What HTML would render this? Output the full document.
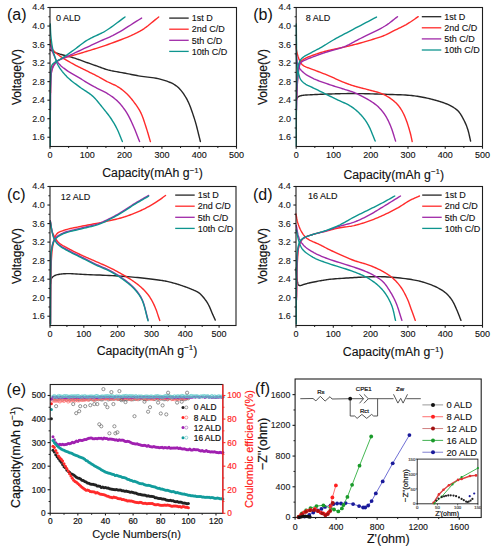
<!DOCTYPE html><html><head><meta charset="utf-8"><style>html,body{margin:0;padding:0;background:#fff;width:497px;height:550px;overflow:hidden}svg{display:block}</style></head><body><svg width="497" height="550" viewBox="0 0 497 550" font-family="'Liberation Sans', sans-serif">
<rect width="497" height="550" fill="#fff"/>
<path d="M50.00,49.80 L50.56,50.09 L51.10,50.39 L51.65,50.69 L52.19,51.00 L52.74,51.30 L53.29,51.60 L53.85,51.89 L54.41,52.17 L55.00,52.44 L55.60,52.70 L56.28,52.97 L56.98,53.22 L57.69,53.46 L58.41,53.69 L59.14,53.91 L59.88,54.12 L60.64,54.34 L61.41,54.55 L62.20,54.77 L63.00,55.00 L63.97,55.27 L64.97,55.54 L65.98,55.80 L67.02,56.06 L68.08,56.32 L69.15,56.59 L70.23,56.87 L71.32,57.16 L72.41,57.47 L73.50,57.80 L74.73,58.19 L75.97,58.61 L77.23,59.04 L78.50,59.50 L79.78,59.96 L81.07,60.43 L82.35,60.91 L83.64,61.38 L84.92,61.84 L86.20,62.30 L87.49,62.75 L88.79,63.21 L90.11,63.68 L91.42,64.14 L92.74,64.61 L94.04,65.06 L95.32,65.51 L96.58,65.96 L97.81,66.39 L99.00,66.80 L99.95,67.14 L100.85,67.47 L101.71,67.79 L102.56,68.11 L103.40,68.42 L104.25,68.73 L105.11,69.03 L106.02,69.32 L106.98,69.61 L108.00,69.90 L109.51,70.28 L111.14,70.65 L112.86,71.00 L114.65,71.35 L116.48,71.68 L118.33,72.01 L120.18,72.34 L122.01,72.66 L123.79,72.98 L125.50,73.30 L126.99,73.59 L128.45,73.88 L129.87,74.17 L131.28,74.45 L132.69,74.73 L134.09,75.01 L135.52,75.28 L136.97,75.56 L138.46,75.83 L140.00,76.10 L141.88,76.39 L143.83,76.65 L145.84,76.89 L147.89,77.11 L149.96,77.35 L152.04,77.60 L154.09,77.89 L156.12,78.23 L158.09,78.63 L160.00,79.10 L161.74,79.59 L163.48,80.10 L165.21,80.63 L166.92,81.20 L168.61,81.81 L170.25,82.48 L171.84,83.20 L173.37,83.99 L174.82,84.85 L176.20,85.80 L177.44,86.78 L178.60,87.83 L179.71,88.95 L180.76,90.12 L181.76,91.35 L182.73,92.63 L183.66,93.96 L184.56,95.33 L185.43,96.75 L186.30,98.20 L187.27,99.96 L188.19,101.82 L189.07,103.75 L189.89,105.75 L190.69,107.80 L191.45,109.89 L192.18,112.01 L192.90,114.15 L193.60,116.28 L194.30,118.40 L195.00,120.63 L195.67,122.89 L196.30,125.19 L196.91,127.50 L197.50,129.83 L198.07,132.17 L198.64,134.51 L199.22,136.85 L199.80,139.18 L200.40,141.50" fill="none" stroke="#262626" stroke-width="1.40" stroke-linejoin="round" stroke-linecap="round" />
<path d="M50.50,93.00 L50.54,91.28 L50.56,89.53 L50.58,87.75 L50.59,85.98 L50.60,84.21 L50.63,82.47 L50.68,80.76 L50.75,79.11 L50.85,77.51 L51.00,76.00 L51.13,74.87 L51.25,73.75 L51.38,72.65 L51.52,71.58 L51.69,70.53 L51.87,69.53 L52.09,68.57 L52.35,67.66 L52.65,66.80 L53.00,66.00 L53.31,65.43 L53.66,64.89 L54.03,64.39 L54.43,63.91 L54.84,63.46 L55.27,63.04 L55.71,62.63 L56.14,62.24 L56.58,61.86 L57.00,61.50 L57.35,61.21 L57.68,60.93 L58.01,60.68 L58.33,60.44 L58.67,60.21 L59.02,59.98 L59.39,59.77 L59.79,59.55 L60.22,59.33 L60.70,59.10 L61.65,58.70 L62.74,58.31 L63.95,57.93 L65.24,57.55 L66.60,57.17 L68.00,56.80 L69.41,56.43 L70.81,56.05 L72.19,55.68 L73.50,55.30 L74.76,54.93 L75.99,54.56 L77.21,54.20 L78.42,53.84 L79.64,53.48 L80.88,53.12 L82.14,52.74 L83.45,52.34 L84.79,51.93 L86.20,51.50 L88.13,50.91 L90.13,50.30 L92.19,49.68 L94.32,49.03 L96.50,48.36 L98.73,47.66 L101.00,46.92 L103.31,46.16 L105.64,45.35 L108.00,44.50 L111.01,43.40 L114.20,42.24 L117.50,41.03 L120.88,39.76 L124.28,38.44 L127.66,37.08 L130.97,35.67 L134.16,34.22 L137.19,32.73 L140.00,31.20 L142.15,29.90 L144.18,28.55 L146.12,27.16 L147.98,25.73 L149.78,24.28 L151.55,22.82 L153.31,21.35 L155.07,19.89 L156.86,18.43 L158.70,17.00" fill="none" stroke="#ff2b2b" stroke-width="1.40" stroke-linejoin="round" stroke-linecap="round" />
<path d="M50.50,40.00 L50.62,40.77 L50.72,41.57 L50.82,42.37 L50.91,43.18 L51.01,43.98 L51.12,44.77 L51.24,45.53 L51.39,46.27 L51.58,46.96 L51.80,47.60 L52.00,48.06 L52.20,48.49 L52.42,48.90 L52.65,49.29 L52.89,49.66 L53.16,50.03 L53.44,50.39 L53.74,50.75 L54.06,51.12 L54.40,51.50 L54.89,52.01 L55.41,52.52 L55.97,53.02 L56.56,53.52 L57.18,54.03 L57.83,54.53 L58.51,55.04 L59.22,55.55 L59.95,56.07 L60.70,56.60 L61.78,57.33 L62.94,58.09 L64.17,58.86 L65.46,59.63 L66.78,60.42 L68.13,61.20 L69.49,61.97 L70.85,62.74 L72.19,63.48 L73.50,64.20 L74.76,64.88 L76.03,65.55 L77.29,66.20 L78.56,66.83 L79.83,67.46 L81.11,68.09 L82.38,68.71 L83.65,69.34 L84.93,69.97 L86.20,70.60 L87.49,71.24 L88.79,71.89 L90.11,72.54 L91.43,73.19 L92.74,73.84 L94.05,74.48 L95.33,75.12 L96.59,75.76 L97.82,76.38 L99.00,77.00 L99.97,77.52 L100.90,78.03 L101.81,78.54 L102.70,79.05 L103.57,79.55 L104.44,80.04 L105.31,80.54 L106.19,81.03 L107.08,81.52 L108.00,82.00 L108.97,82.49 L109.96,82.95 L110.96,83.40 L111.97,83.85 L112.98,84.29 L113.99,84.75 L114.99,85.22 L115.98,85.71 L116.95,86.24 L117.90,86.80 L118.84,87.41 L119.78,88.03 L120.70,88.69 L121.61,89.36 L122.51,90.05 L123.39,90.77 L124.27,91.50 L125.13,92.25 L125.97,93.02 L126.80,93.80 L127.63,94.62 L128.45,95.46 L129.26,96.33 L130.05,97.22 L130.82,98.12 L131.58,99.04 L132.33,99.96 L133.07,100.90 L133.79,101.85 L134.50,102.80 L135.20,103.76 L135.89,104.71 L136.57,105.68 L137.24,106.65 L137.89,107.64 L138.53,108.64 L139.15,109.66 L139.75,110.71 L140.34,111.79 L140.90,112.90 L141.50,114.19 L142.07,115.53 L142.61,116.90 L143.13,118.31 L143.63,119.74 L144.12,121.19 L144.59,122.65 L145.06,124.11 L145.53,125.56 L146.00,127.00 L146.47,128.44 L146.93,129.90 L147.37,131.35 L147.81,132.81 L148.25,134.28 L148.68,135.74 L149.10,137.21 L149.53,138.67 L149.96,140.14 L150.40,141.60" fill="none" stroke="#ff2b2b" stroke-width="1.40" stroke-linejoin="round" stroke-linecap="round" />
<path d="M50.50,110.00 L50.52,107.47 L50.54,104.90 L50.55,102.30 L50.55,99.69 L50.56,97.10 L50.58,94.54 L50.61,92.03 L50.65,89.59 L50.71,87.24 L50.80,85.00 L50.86,83.32 L50.90,81.67 L50.93,80.06 L50.96,78.48 L51.01,76.94 L51.09,75.45 L51.21,74.00 L51.40,72.61 L51.65,71.27 L52.00,70.00 L52.33,69.02 L52.69,68.07 L53.08,67.16 L53.50,66.28 L53.96,65.43 L54.46,64.61 L55.00,63.83 L55.59,63.09 L56.22,62.38 L56.90,61.70 L57.70,61.03 L58.56,60.44 L59.48,59.91 L60.46,59.43 L61.48,58.97 L62.54,58.54 L63.64,58.10 L64.77,57.64 L65.93,57.14 L67.10,56.60 L68.77,55.79 L70.56,54.94 L72.43,54.05 L74.37,53.13 L76.35,52.19 L78.36,51.25 L80.38,50.31 L82.37,49.38 L84.32,48.48 L86.20,47.60 L87.92,46.81 L89.63,46.02 L91.33,45.23 L93.03,44.46 L94.71,43.69 L96.38,42.93 L98.02,42.18 L99.64,41.44 L101.24,40.72 L102.80,40.00 L104.11,39.41 L105.37,38.86 L106.58,38.33 L107.77,37.82 L108.96,37.30 L110.15,36.77 L111.38,36.21 L112.65,35.61 L113.99,34.94 L115.40,34.20 L117.66,32.95 L120.07,31.55 L122.61,30.03 L125.24,28.40 L127.94,26.71 L130.69,24.97 L133.46,23.21 L136.22,21.46 L138.94,19.75 L141.60,18.10" fill="none" stroke="#a02aa8" stroke-width="1.40" stroke-linejoin="round" stroke-linecap="round" />
<path d="M50.50,45.00 L50.74,45.80 L50.97,46.59 L51.19,47.38 L51.41,48.17 L51.63,48.97 L51.87,49.76 L52.11,50.56 L52.38,51.37 L52.67,52.18 L53.00,53.00 L53.40,53.97 L53.83,54.97 L54.27,55.99 L54.74,57.02 L55.23,58.05 L55.75,59.08 L56.31,60.08 L56.90,61.06 L57.53,62.00 L58.20,62.90 L58.93,63.77 L59.71,64.61 L60.53,65.42 L61.39,66.20 L62.28,66.96 L63.20,67.70 L64.15,68.43 L65.12,69.16 L66.10,69.88 L67.10,70.60 L68.25,71.40 L69.46,72.19 L70.70,72.96 L71.97,73.72 L73.27,74.46 L74.58,75.21 L75.90,75.95 L77.21,76.69 L78.52,77.44 L79.80,78.20 L81.07,78.97 L82.34,79.74 L83.59,80.52 L84.85,81.29 L86.11,82.07 L87.38,82.84 L88.66,83.61 L89.95,84.38 L91.27,85.14 L92.60,85.90 L94.07,86.70 L95.60,87.48 L97.16,88.26 L98.75,89.03 L100.34,89.80 L101.91,90.58 L103.47,91.36 L104.97,92.15 L106.42,92.97 L107.80,93.80 L108.93,94.52 L110.02,95.24 L111.09,95.96 L112.12,96.68 L113.13,97.42 L114.12,98.17 L115.08,98.95 L116.03,99.76 L116.97,100.61 L117.90,101.50 L118.88,102.50 L119.84,103.55 L120.79,104.63 L121.72,105.75 L122.63,106.90 L123.51,108.08 L124.37,109.27 L125.21,110.47 L126.02,111.69 L126.80,112.90 L127.54,114.11 L128.25,115.34 L128.92,116.58 L129.56,117.84 L130.19,119.11 L130.80,120.39 L131.40,121.69 L131.99,123.01 L132.59,124.35 L133.20,125.70 L133.87,127.21 L134.52,128.75 L135.17,130.32 L135.81,131.92 L136.44,133.53 L137.07,135.15 L137.70,136.77 L138.33,138.39 L138.96,140.00 L139.60,141.60" fill="none" stroke="#a02aa8" stroke-width="1.40" stroke-linejoin="round" stroke-linecap="round" />
<path d="M50.30,146.00 L50.30,141.32 L50.29,136.50 L50.28,131.61 L50.27,126.69 L50.27,121.82 L50.26,117.04 L50.26,112.41 L50.26,107.99 L50.28,103.84 L50.30,100.00 L50.31,97.65 L50.33,95.42 L50.33,93.29 L50.35,91.25 L50.36,89.28 L50.38,87.37 L50.41,85.50 L50.46,83.66 L50.52,81.83 L50.60,80.00 L50.66,78.41 L50.68,76.79 L50.70,75.15 L50.72,73.54 L50.75,71.96 L50.83,70.45 L50.95,69.02 L51.14,67.71 L51.42,66.52 L51.80,65.50 L52.08,64.96 L52.39,64.48 L52.73,64.04 L53.10,63.65 L53.48,63.28 L53.89,62.95 L54.30,62.63 L54.73,62.32 L55.16,62.01 L55.60,61.70 L56.05,61.40 L56.51,61.13 L56.98,60.89 L57.46,60.66 L57.95,60.45 L58.46,60.23 L58.98,59.99 L59.53,59.73 L60.10,59.44 L60.70,59.10 L61.76,58.45 L62.90,57.70 L64.12,56.88 L65.40,55.99 L66.73,55.06 L68.08,54.09 L69.45,53.11 L70.82,52.12 L72.18,51.15 L73.50,50.20 L74.87,49.21 L76.23,48.19 L77.58,47.15 L78.94,46.10 L80.31,45.04 L81.69,43.99 L83.10,42.96 L84.53,41.94 L85.99,40.95 L87.50,40.00 L89.17,39.03 L90.89,38.13 L92.65,37.26 L94.45,36.43 L96.27,35.60 L98.10,34.76 L99.94,33.90 L101.77,33.00 L103.60,32.04 L105.40,31.00 L107.36,29.78 L109.32,28.48 L111.28,27.12 L113.24,25.71 L115.20,24.27 L117.16,22.81 L119.12,21.34 L121.08,19.87 L123.04,18.42 L125.00,17.00" fill="none" stroke="#0e958f" stroke-width="1.40" stroke-linejoin="round" stroke-linecap="round" />
<path d="M50.30,24.00 L50.35,25.10 L50.38,26.19 L50.42,27.27 L50.45,28.36 L50.49,29.45 L50.53,30.54 L50.58,31.64 L50.64,32.74 L50.71,33.86 L50.80,35.00 L50.92,36.28 L51.05,37.59 L51.19,38.94 L51.35,40.31 L51.52,41.67 L51.70,43.03 L51.88,44.35 L52.08,45.63 L52.29,46.85 L52.50,48.00 L52.66,48.81 L52.83,49.58 L53.00,50.32 L53.17,51.03 L53.35,51.72 L53.53,52.41 L53.73,53.10 L53.94,53.81 L54.16,54.54 L54.40,55.30 L54.70,56.26 L55.00,57.24 L55.30,58.25 L55.63,59.28 L55.97,60.32 L56.34,61.37 L56.74,62.41 L57.18,63.45 L57.67,64.48 L58.20,65.50 L58.88,66.66 L59.62,67.83 L60.42,69.00 L61.27,70.17 L62.16,71.33 L63.09,72.48 L64.06,73.62 L65.05,74.74 L66.07,75.83 L67.10,76.90 L68.23,78.00 L69.42,79.08 L70.65,80.14 L71.92,81.17 L73.22,82.19 L74.53,83.19 L75.86,84.18 L77.18,85.16 L78.50,86.13 L79.80,87.10 L81.07,88.02 L82.37,88.91 L83.68,89.76 L84.99,90.60 L86.30,91.44 L87.60,92.30 L88.89,93.18 L90.16,94.09 L91.40,95.06 L92.60,96.10 L93.85,97.29 L95.08,98.56 L96.30,99.90 L97.49,101.29 L98.66,102.70 L99.80,104.12 L100.91,105.51 L101.99,106.87 L103.02,108.18 L104.00,109.40 L104.72,110.28 L105.40,111.11 L106.06,111.91 L106.69,112.70 L107.31,113.47 L107.91,114.24 L108.51,115.01 L109.10,115.81 L109.70,116.64 L110.30,117.50 L110.97,118.49 L111.63,119.49 L112.30,120.52 L112.95,121.57 L113.60,122.63 L114.25,123.71 L114.88,124.81 L115.50,125.93 L116.11,127.06 L116.70,128.20 L117.32,129.46 L117.92,130.76 L118.50,132.08 L119.07,133.42 L119.63,134.78 L120.18,136.15 L120.73,137.52 L121.28,138.89 L121.84,140.25 L122.40,141.60" fill="none" stroke="#0e958f" stroke-width="1.40" stroke-linejoin="round" stroke-linecap="round" />
<rect x="50.00" y="7.50" width="186.50" height="139.00" fill="none" stroke="#1e1e1e" stroke-width="1.10"/>
<line x1="50.00" y1="137.23" x2="47.40" y2="137.23" stroke="#1e1e1e" stroke-width="1.1"/>
<text x="44.70" y="140.18" font-size="9.00" text-anchor="end" fill="#222" stroke="#222" stroke-width="0.12" >1.6</text>
<line x1="50.00" y1="118.70" x2="47.40" y2="118.70" stroke="#1e1e1e" stroke-width="1.1"/>
<text x="44.70" y="121.65" font-size="9.00" text-anchor="end" fill="#222" stroke="#222" stroke-width="0.12" >2.0</text>
<line x1="50.00" y1="100.17" x2="47.40" y2="100.17" stroke="#1e1e1e" stroke-width="1.1"/>
<text x="44.70" y="103.12" font-size="9.00" text-anchor="end" fill="#222" stroke="#222" stroke-width="0.12" >2.4</text>
<line x1="50.00" y1="81.63" x2="47.40" y2="81.63" stroke="#1e1e1e" stroke-width="1.1"/>
<text x="44.70" y="84.58" font-size="9.00" text-anchor="end" fill="#222" stroke="#222" stroke-width="0.12" >2.8</text>
<line x1="50.00" y1="63.10" x2="47.40" y2="63.10" stroke="#1e1e1e" stroke-width="1.1"/>
<text x="44.70" y="66.05" font-size="9.00" text-anchor="end" fill="#222" stroke="#222" stroke-width="0.12" >3.2</text>
<line x1="50.00" y1="44.57" x2="47.40" y2="44.57" stroke="#1e1e1e" stroke-width="1.1"/>
<text x="44.70" y="47.52" font-size="9.00" text-anchor="end" fill="#222" stroke="#222" stroke-width="0.12" >3.6</text>
<line x1="50.00" y1="26.03" x2="47.40" y2="26.03" stroke="#1e1e1e" stroke-width="1.1"/>
<text x="44.70" y="28.98" font-size="9.00" text-anchor="end" fill="#222" stroke="#222" stroke-width="0.12" >4.0</text>
<line x1="50.00" y1="7.50" x2="47.40" y2="7.50" stroke="#1e1e1e" stroke-width="1.1"/>
<text x="44.70" y="10.45" font-size="9.00" text-anchor="end" fill="#222" stroke="#222" stroke-width="0.12" >4.4</text>
<line x1="50.00" y1="127.97" x2="48.40" y2="127.97" stroke="#1e1e1e" stroke-width="1"/>
<line x1="50.00" y1="109.43" x2="48.40" y2="109.43" stroke="#1e1e1e" stroke-width="1"/>
<line x1="50.00" y1="90.90" x2="48.40" y2="90.90" stroke="#1e1e1e" stroke-width="1"/>
<line x1="50.00" y1="72.37" x2="48.40" y2="72.37" stroke="#1e1e1e" stroke-width="1"/>
<line x1="50.00" y1="53.83" x2="48.40" y2="53.83" stroke="#1e1e1e" stroke-width="1"/>
<line x1="50.00" y1="35.30" x2="48.40" y2="35.30" stroke="#1e1e1e" stroke-width="1"/>
<line x1="50.00" y1="16.77" x2="48.40" y2="16.77" stroke="#1e1e1e" stroke-width="1"/>
<line x1="50.00" y1="146.50" x2="50.00" y2="148.70" stroke="#1e1e1e" stroke-width="1.1"/>
<text x="50.00" y="157.50" font-size="9.00" text-anchor="middle" fill="#111" stroke="#111" stroke-width="0.12" >0</text>
<line x1="87.30" y1="146.50" x2="87.30" y2="148.70" stroke="#1e1e1e" stroke-width="1.1"/>
<text x="87.30" y="157.50" font-size="9.00" text-anchor="middle" fill="#111" stroke="#111" stroke-width="0.12" >100</text>
<line x1="124.60" y1="146.50" x2="124.60" y2="148.70" stroke="#1e1e1e" stroke-width="1.1"/>
<text x="124.60" y="157.50" font-size="9.00" text-anchor="middle" fill="#111" stroke="#111" stroke-width="0.12" >200</text>
<line x1="161.90" y1="146.50" x2="161.90" y2="148.70" stroke="#1e1e1e" stroke-width="1.1"/>
<text x="161.90" y="157.50" font-size="9.00" text-anchor="middle" fill="#111" stroke="#111" stroke-width="0.12" >300</text>
<line x1="199.20" y1="146.50" x2="199.20" y2="148.70" stroke="#1e1e1e" stroke-width="1.1"/>
<text x="199.20" y="157.50" font-size="9.00" text-anchor="middle" fill="#111" stroke="#111" stroke-width="0.12" >400</text>
<line x1="236.50" y1="146.50" x2="236.50" y2="148.70" stroke="#1e1e1e" stroke-width="1.1"/>
<text x="236.50" y="157.50" font-size="9.00" text-anchor="middle" fill="#111" stroke="#111" stroke-width="0.12" >500</text>
<line x1="68.65" y1="146.50" x2="68.65" y2="148.00" stroke="#1e1e1e" stroke-width="1"/>
<line x1="105.95" y1="146.50" x2="105.95" y2="148.00" stroke="#1e1e1e" stroke-width="1"/>
<line x1="143.25" y1="146.50" x2="143.25" y2="148.00" stroke="#1e1e1e" stroke-width="1"/>
<line x1="180.55" y1="146.50" x2="180.55" y2="148.00" stroke="#1e1e1e" stroke-width="1"/>
<line x1="217.85" y1="146.50" x2="217.85" y2="148.00" stroke="#1e1e1e" stroke-width="1"/>
<text x="56.00" y="21.00" font-size="9.00" text-anchor="start" fill="#111" stroke="#111" stroke-width="0.12" >0 ALD</text>
<line x1="169.20" y1="18.10" x2="188.70" y2="18.10" stroke="#262626" stroke-width="1.3"/>
<text x="191.70" y="21.30" font-size="9.00" text-anchor="start" fill="#111" stroke="#111" stroke-width="0.12" >1st D</text>
<line x1="169.20" y1="29.20" x2="188.70" y2="29.20" stroke="#ff2b2b" stroke-width="1.3"/>
<text x="191.70" y="32.40" font-size="9.00" text-anchor="start" fill="#111" stroke="#111" stroke-width="0.12" >2nd C/D</text>
<line x1="169.20" y1="40.30" x2="188.70" y2="40.30" stroke="#a02aa8" stroke-width="1.3"/>
<text x="191.70" y="43.50" font-size="9.00" text-anchor="start" fill="#111" stroke="#111" stroke-width="0.12" >5th C/D</text>
<line x1="169.20" y1="51.40" x2="188.70" y2="51.40" stroke="#0e958f" stroke-width="1.3"/>
<text x="191.70" y="54.60" font-size="9.00" text-anchor="start" fill="#111" stroke="#111" stroke-width="0.12" >10th C/D</text>
<text x="152.55" y="177.20" font-size="12.30" text-anchor="middle" fill="#111" stroke="#111" stroke-width="0.12" >Capacity(mAh g<tspan font-size="8" dy="-4.5">&#8722;1</tspan><tspan dy="4.5">)</tspan></text>
<text transform="translate(21.00,77.00) rotate(-90)" font-size="12" text-anchor="middle" fill="#111" stroke="#111" stroke-width="0.2">Voltage(V)</text>
<text x="7.00" y="19.50" font-size="16.00" text-anchor="start" fill="#111" stroke="#111" stroke-width="0.00" >(a)</text>
<path d="M296.50,99.00 L296.65,98.80 L296.78,98.59 L296.92,98.37 L297.05,98.16 L297.19,97.95 L297.33,97.74 L297.48,97.54 L297.64,97.35 L297.81,97.17 L298.00,97.00 L298.23,96.83 L298.46,96.67 L298.71,96.52 L298.97,96.38 L299.24,96.25 L299.53,96.13 L299.84,96.02 L300.17,95.91 L300.52,95.80 L300.90,95.70 L301.69,95.52 L302.58,95.38 L303.55,95.25 L304.61,95.15 L305.73,95.06 L306.89,94.98 L308.10,94.91 L309.33,94.85 L310.56,94.78 L311.80,94.70 L313.44,94.60 L315.18,94.51 L316.99,94.43 L318.86,94.36 L320.76,94.29 L322.67,94.23 L324.57,94.17 L326.44,94.11 L328.26,94.06 L330.00,94.00 L331.46,93.95 L332.87,93.90 L334.25,93.85 L335.60,93.80 L336.94,93.76 L338.28,93.72 L339.65,93.68 L341.05,93.65 L342.49,93.62 L344.00,93.60 L345.93,93.58 L347.94,93.57 L350.00,93.57 L352.12,93.57 L354.27,93.58 L356.43,93.59 L358.60,93.61 L360.77,93.64 L362.90,93.67 L365.00,93.70 L367.01,93.74 L369.00,93.78 L370.97,93.83 L372.93,93.89 L374.89,93.95 L376.86,94.01 L378.85,94.08 L380.87,94.15 L382.91,94.22 L385.00,94.30 L387.42,94.38 L389.94,94.46 L392.52,94.54 L395.15,94.62 L397.78,94.70 L400.39,94.80 L402.94,94.91 L405.42,95.05 L407.78,95.21 L410.00,95.40 L411.58,95.56 L413.08,95.73 L414.54,95.91 L415.94,96.10 L417.31,96.30 L418.67,96.51 L420.01,96.74 L421.35,96.98 L422.71,97.23 L424.10,97.50 L425.52,97.79 L426.96,98.09 L428.40,98.41 L429.84,98.74 L431.27,99.09 L432.70,99.45 L434.11,99.82 L435.50,100.20 L436.87,100.60 L438.20,101.00 L439.39,101.37 L440.57,101.75 L441.74,102.13 L442.89,102.52 L444.02,102.92 L445.14,103.33 L446.24,103.77 L447.32,104.22 L448.37,104.70 L449.40,105.20 L450.33,105.68 L451.26,106.17 L452.17,106.67 L453.07,107.18 L453.94,107.72 L454.79,108.27 L455.62,108.85 L456.41,109.47 L457.18,110.12 L457.90,110.80 L458.58,111.53 L459.23,112.30 L459.84,113.10 L460.42,113.94 L460.97,114.80 L461.51,115.68 L462.02,116.58 L462.52,117.48 L463.01,118.39 L463.50,119.30 L463.99,120.24 L464.46,121.19 L464.92,122.15 L465.36,123.12 L465.79,124.10 L466.20,125.10 L466.60,126.10 L466.98,127.12 L467.35,128.16 L467.70,129.20 L468.06,130.33 L468.38,131.49 L468.69,132.67 L468.98,133.86 L469.25,135.06 L469.52,136.27 L469.78,137.49 L470.05,138.70 L470.32,139.90 L470.60,141.10" fill="none" stroke="#262626" stroke-width="1.40" stroke-linejoin="round" stroke-linecap="round" />
<path d="M296.50,100.00 L296.60,97.98 L296.69,95.92 L296.79,93.84 L296.88,91.76 L296.97,89.68 L297.07,87.63 L297.17,85.62 L297.27,83.67 L297.38,81.79 L297.50,80.00 L297.59,78.66 L297.67,77.34 L297.75,76.04 L297.83,74.78 L297.92,73.55 L298.01,72.36 L298.12,71.20 L298.26,70.09 L298.41,69.02 L298.60,68.00 L298.75,67.28 L298.89,66.57 L299.04,65.89 L299.19,65.23 L299.36,64.59 L299.54,63.97 L299.76,63.38 L300.00,62.83 L300.28,62.30 L300.60,61.80 L300.92,61.39 L301.27,61.01 L301.64,60.66 L302.03,60.35 L302.45,60.04 L302.89,59.76 L303.35,59.47 L303.84,59.19 L304.36,58.90 L304.90,58.60 L305.77,58.14 L306.73,57.68 L307.77,57.22 L308.86,56.76 L310.00,56.31 L311.16,55.86 L312.34,55.43 L313.52,55.01 L314.68,54.59 L315.80,54.20 L316.88,53.83 L317.94,53.47 L319.00,53.13 L320.06,52.79 L321.12,52.47 L322.20,52.16 L323.30,51.84 L324.43,51.53 L325.59,51.22 L326.80,50.90 L328.36,50.51 L329.99,50.13 L331.68,49.75 L333.42,49.38 L335.18,49.00 L336.96,48.63 L338.75,48.26 L340.53,47.88 L342.28,47.49 L344.00,47.10 L345.64,46.71 L347.26,46.34 L348.85,45.96 L350.44,45.58 L352.03,45.20 L353.64,44.80 L355.26,44.39 L356.93,43.95 L358.63,43.49 L360.40,43.00 L362.72,42.34 L365.19,41.63 L367.79,40.87 L370.44,40.09 L373.11,39.27 L375.75,38.45 L378.30,37.62 L380.73,36.79 L382.98,35.98 L385.00,35.20 L386.20,34.70 L387.30,34.20 L388.33,33.71 L389.31,33.22 L390.25,32.73 L391.17,32.23 L392.09,31.74 L393.02,31.23 L393.99,30.72 L395.00,30.20 L396.16,29.62 L397.34,29.04 L398.55,28.46 L399.76,27.87 L400.98,27.27 L402.20,26.67 L403.42,26.05 L404.63,25.41 L405.83,24.77 L407.00,24.10 L408.15,23.41 L409.29,22.70 L410.42,21.98 L411.54,21.23 L412.65,20.48 L413.76,19.72 L414.86,18.96 L415.97,18.20 L417.08,17.45 L418.20,16.70" fill="none" stroke="#ff2b2b" stroke-width="1.40" stroke-linejoin="round" stroke-linecap="round" />
<path d="M296.10,46.00 L296.13,46.34 L296.15,46.68 L296.16,47.01 L296.18,47.33 L296.20,47.67 L296.22,48.00 L296.25,48.35 L296.29,48.71 L296.34,49.09 L296.40,49.50 L296.52,50.18 L296.66,50.91 L296.82,51.70 L297.00,52.52 L297.19,53.37 L297.41,54.23 L297.63,55.08 L297.88,55.92 L298.13,56.73 L298.40,57.50 L298.66,58.21 L298.94,58.92 L299.22,59.64 L299.52,60.35 L299.83,61.04 L300.16,61.71 L300.49,62.35 L300.85,62.95 L301.22,63.50 L301.60,64.00 L301.90,64.34 L302.21,64.65 L302.52,64.93 L302.85,65.18 L303.18,65.42 L303.52,65.65 L303.87,65.87 L304.24,66.08 L304.61,66.29 L305.00,66.50 L305.46,66.74 L305.94,66.96 L306.42,67.16 L306.91,67.35 L307.42,67.54 L307.96,67.72 L308.52,67.92 L309.11,68.12 L309.73,68.35 L310.40,68.60 L311.68,69.09 L313.11,69.63 L314.66,70.21 L316.31,70.83 L318.03,71.48 L319.80,72.15 L321.58,72.84 L323.36,73.53 L325.11,74.22 L326.80,74.90 L328.53,75.62 L330.29,76.39 L332.08,77.17 L333.87,77.98 L335.66,78.78 L337.42,79.58 L339.15,80.35 L340.84,81.08 L342.46,81.77 L344.00,82.40 L345.10,82.83 L346.15,83.24 L347.16,83.62 L348.13,83.99 L349.09,84.34 L350.05,84.67 L351.01,85.01 L352.00,85.33 L353.03,85.66 L354.10,86.00 L355.41,86.39 L356.76,86.77 L358.15,87.13 L359.56,87.50 L361.00,87.85 L362.44,88.21 L363.90,88.57 L365.34,88.94 L366.78,89.31 L368.20,89.70 L369.63,90.09 L371.07,90.47 L372.53,90.85 L373.99,91.23 L375.45,91.62 L376.89,92.02 L378.30,92.45 L379.68,92.90 L381.02,93.38 L382.30,93.90 L383.39,94.39 L384.45,94.89 L385.49,95.41 L386.50,95.96 L387.49,96.52 L388.46,97.10 L389.41,97.70 L390.33,98.31 L391.22,98.95 L392.10,99.60 L392.90,100.23 L393.68,100.86 L394.44,101.51 L395.17,102.18 L395.89,102.86 L396.59,103.57 L397.27,104.29 L397.93,105.03 L398.57,105.80 L399.20,106.60 L399.85,107.48 L400.47,108.38 L401.07,109.30 L401.64,110.25 L402.20,111.22 L402.74,112.22 L403.27,113.25 L403.79,114.30 L404.30,115.39 L404.80,116.50 L405.40,117.91 L405.99,119.40 L406.56,120.97 L407.13,122.59 L407.67,124.23 L408.19,125.87 L408.69,127.49 L409.16,129.07 L409.59,130.58 L410.00,132.00 L410.28,133.04 L410.54,134.04 L410.78,135.01 L410.99,135.96 L411.20,136.88 L411.40,137.80 L411.59,138.72 L411.79,139.63 L411.99,140.56 L412.20,141.50" fill="none" stroke="#ff2b2b" stroke-width="1.40" stroke-linejoin="round" stroke-linecap="round" />
<path d="M296.50,110.00 L296.59,107.15 L296.68,104.21 L296.76,101.23 L296.84,98.24 L296.93,95.27 L297.01,92.36 L297.11,89.54 L297.22,86.85 L297.35,84.32 L297.50,82.00 L297.60,80.58 L297.71,79.22 L297.82,77.93 L297.93,76.68 L298.05,75.48 L298.17,74.32 L298.31,73.20 L298.46,72.11 L298.62,71.05 L298.80,70.00 L298.94,69.19 L299.06,68.39 L299.17,67.59 L299.29,66.82 L299.43,66.06 L299.58,65.34 L299.77,64.66 L299.99,64.02 L300.27,63.43 L300.60,62.90 L300.92,62.51 L301.26,62.18 L301.63,61.88 L302.03,61.62 L302.45,61.38 L302.89,61.15 L303.36,60.93 L303.85,60.70 L304.37,60.46 L304.90,60.20 L305.78,59.77 L306.74,59.33 L307.78,58.89 L308.87,58.44 L310.01,57.99 L311.18,57.53 L312.35,57.09 L313.53,56.65 L314.68,56.22 L315.80,55.80 L316.88,55.40 L317.95,55.01 L319.01,54.63 L320.07,54.25 L321.13,53.89 L322.21,53.52 L323.31,53.15 L324.44,52.77 L325.60,52.39 L326.80,52.00 L328.37,51.51 L330.01,51.04 L331.70,50.57 L333.45,50.10 L335.22,49.62 L337.00,49.12 L338.79,48.60 L340.56,48.04 L342.30,47.44 L344.00,46.80 L345.67,46.10 L347.29,45.36 L348.89,44.59 L350.47,43.78 L352.06,42.95 L353.65,42.09 L355.27,41.21 L356.92,40.32 L358.63,39.41 L360.40,38.50 L362.70,37.35 L365.15,36.16 L367.70,34.93 L370.32,33.68 L372.96,32.40 L375.58,31.11 L378.13,29.82 L380.58,28.53 L382.89,27.26 L385.00,26.00 L386.46,25.07 L387.83,24.13 L389.13,23.20 L390.37,22.27 L391.57,21.35 L392.75,20.42 L393.91,19.49 L395.08,18.56 L396.27,17.63 L397.50,16.70" fill="none" stroke="#a02aa8" stroke-width="1.40" stroke-linejoin="round" stroke-linecap="round" />
<path d="M296.20,54.00 L296.40,55.24 L296.56,56.51 L296.71,57.81 L296.85,59.10 L297.01,60.39 L297.18,61.65 L297.39,62.88 L297.66,64.06 L297.99,65.17 L298.40,66.20 L298.80,67.00 L299.23,67.75 L299.70,68.47 L300.21,69.15 L300.74,69.80 L301.31,70.43 L301.90,71.04 L302.51,71.63 L303.15,72.22 L303.80,72.80 L304.55,73.42 L305.33,74.02 L306.14,74.59 L306.98,75.14 L307.85,75.67 L308.75,76.19 L309.67,76.70 L310.62,77.20 L311.60,77.70 L312.60,78.20 L313.86,78.80 L315.17,79.38 L316.53,79.95 L317.93,80.50 L319.36,81.05 L320.83,81.59 L322.31,82.12 L323.80,82.65 L325.30,83.17 L326.80,83.70 L328.47,84.28 L330.20,84.85 L331.97,85.43 L333.77,86.00 L335.57,86.57 L337.36,87.12 L339.12,87.67 L340.82,88.19 L342.46,88.71 L344.00,89.20 L345.11,89.55 L346.17,89.87 L347.19,90.18 L348.17,90.47 L349.14,90.76 L350.09,91.05 L351.06,91.37 L352.04,91.71 L353.05,92.08 L354.10,92.50 L355.44,93.07 L356.84,93.69 L358.28,94.35 L359.75,95.05 L361.22,95.78 L362.69,96.53 L364.13,97.29 L365.55,98.06 L366.91,98.84 L368.20,99.60 L369.29,100.26 L370.35,100.92 L371.39,101.59 L372.41,102.26 L373.40,102.93 L374.37,103.63 L375.31,104.34 L376.23,105.07 L377.13,105.82 L378.00,106.60 L378.81,107.37 L379.59,108.16 L380.35,108.96 L381.09,109.78 L381.80,110.62 L382.50,111.47 L383.17,112.35 L383.83,113.25 L384.47,114.16 L385.10,115.10 L385.75,116.12 L386.37,117.17 L386.96,118.23 L387.54,119.33 L388.10,120.44 L388.64,121.57 L389.17,122.73 L389.69,123.90 L390.20,125.09 L390.70,126.30 L391.25,127.68 L391.77,129.10 L392.27,130.56 L392.76,132.05 L393.24,133.55 L393.71,135.06 L394.17,136.58 L394.64,138.10 L395.12,139.61 L395.60,141.10" fill="none" stroke="#a02aa8" stroke-width="1.40" stroke-linejoin="round" stroke-linecap="round" />
<path d="M296.30,146.00 L296.31,142.37 L296.31,138.71 L296.32,135.02 L296.32,131.33 L296.33,127.65 L296.33,123.99 L296.34,120.39 L296.35,116.84 L296.37,113.37 L296.40,110.00 L296.42,107.18 L296.44,104.40 L296.45,101.66 L296.46,98.96 L296.48,96.31 L296.51,93.69 L296.55,91.12 L296.61,88.60 L296.69,86.13 L296.80,83.70 L296.89,81.66 L296.98,79.61 L297.06,77.56 L297.15,75.54 L297.26,73.57 L297.39,71.66 L297.56,69.84 L297.78,68.12 L298.06,66.54 L298.40,65.10 L298.63,64.28 L298.87,63.52 L299.12,62.81 L299.38,62.14 L299.66,61.50 L299.97,60.89 L300.31,60.30 L300.69,59.73 L301.12,59.16 L301.60,58.60 L302.26,57.95 L303.00,57.34 L303.81,56.76 L304.68,56.21 L305.59,55.68 L306.54,55.17 L307.51,54.66 L308.48,54.15 L309.45,53.63 L310.40,53.10 L311.43,52.52 L312.49,51.94 L313.56,51.38 L314.65,50.81 L315.74,50.25 L316.85,49.68 L317.96,49.11 L319.08,48.52 L320.19,47.92 L321.30,47.30 L322.47,46.62 L323.64,45.92 L324.80,45.21 L325.96,44.49 L327.13,43.75 L328.31,43.01 L329.52,42.26 L330.74,41.51 L332.00,40.75 L333.30,40.00 L334.86,39.11 L336.45,38.23 L338.08,37.34 L339.73,36.45 L341.42,35.55 L343.14,34.64 L344.90,33.71 L346.69,32.76 L348.53,31.79 L350.40,30.80 L352.79,29.54 L355.26,28.23 L357.82,26.88 L360.44,25.51 L363.10,24.11 L365.79,22.71 L368.50,21.29 L371.19,19.88 L373.87,18.48 L376.50,17.10" fill="none" stroke="#0e958f" stroke-width="1.40" stroke-linejoin="round" stroke-linecap="round" />
<path d="M296.30,24.00 L296.32,26.10 L296.34,28.21 L296.36,30.31 L296.37,32.42 L296.39,34.53 L296.41,36.63 L296.43,38.73 L296.45,40.83 L296.48,42.92 L296.50,45.00 L296.51,47.07 L296.51,49.20 L296.49,51.36 L296.48,53.53 L296.47,55.68 L296.48,57.77 L296.50,59.79 L296.56,61.70 L296.66,63.48 L296.80,65.10 L296.91,66.03 L297.04,66.89 L297.18,67.71 L297.32,68.49 L297.48,69.23 L297.65,69.96 L297.83,70.66 L298.01,71.37 L298.20,72.08 L298.40,72.80 L298.58,73.49 L298.76,74.17 L298.93,74.86 L299.12,75.54 L299.31,76.21 L299.51,76.87 L299.74,77.51 L300.00,78.13 L300.28,78.73 L300.60,79.30 L300.93,79.81 L301.28,80.30 L301.64,80.76 L302.03,81.21 L302.44,81.64 L302.87,82.06 L303.33,82.47 L303.82,82.88 L304.34,83.29 L304.90,83.70 L305.76,84.28 L306.72,84.84 L307.75,85.39 L308.85,85.92 L309.99,86.45 L311.16,86.98 L312.35,87.50 L313.53,88.03 L314.68,88.56 L315.80,89.10 L316.90,89.65 L318.01,90.20 L319.12,90.76 L320.23,91.31 L321.34,91.87 L322.44,92.43 L323.54,92.98 L324.64,93.53 L325.72,94.07 L326.80,94.60 L327.79,95.09 L328.76,95.57 L329.72,96.04 L330.66,96.50 L331.61,96.96 L332.56,97.43 L333.53,97.90 L334.52,98.38 L335.54,98.88 L336.60,99.40 L337.97,100.05 L339.41,100.71 L340.91,101.37 L342.45,102.06 L344.01,102.75 L345.56,103.47 L347.08,104.21 L348.56,104.98 L349.97,105.77 L351.30,106.60 L352.42,107.36 L353.50,108.15 L354.55,108.95 L355.56,109.78 L356.55,110.62 L357.51,111.48 L358.44,112.36 L359.35,113.26 L360.23,114.17 L361.10,115.10 L361.91,116.00 L362.69,116.91 L363.44,117.82 L364.16,118.75 L364.87,119.70 L365.56,120.67 L366.23,121.67 L366.89,122.71 L367.55,123.78 L368.20,124.90 L368.97,126.33 L369.71,127.83 L370.43,129.41 L371.12,131.04 L371.81,132.70 L372.48,134.39 L373.15,136.09 L373.83,137.78 L374.51,139.46 L375.20,141.10" fill="none" stroke="#0e958f" stroke-width="1.40" stroke-linejoin="round" stroke-linecap="round" />
<rect x="296.20" y="7.50" width="186.30" height="139.00" fill="none" stroke="#1e1e1e" stroke-width="1.10"/>
<line x1="296.20" y1="137.23" x2="293.60" y2="137.23" stroke="#1e1e1e" stroke-width="1.1"/>
<text x="290.90" y="140.18" font-size="9.00" text-anchor="end" fill="#222" stroke="#222" stroke-width="0.12" >1.6</text>
<line x1="296.20" y1="118.70" x2="293.60" y2="118.70" stroke="#1e1e1e" stroke-width="1.1"/>
<text x="290.90" y="121.65" font-size="9.00" text-anchor="end" fill="#222" stroke="#222" stroke-width="0.12" >2.0</text>
<line x1="296.20" y1="100.17" x2="293.60" y2="100.17" stroke="#1e1e1e" stroke-width="1.1"/>
<text x="290.90" y="103.12" font-size="9.00" text-anchor="end" fill="#222" stroke="#222" stroke-width="0.12" >2.4</text>
<line x1="296.20" y1="81.63" x2="293.60" y2="81.63" stroke="#1e1e1e" stroke-width="1.1"/>
<text x="290.90" y="84.58" font-size="9.00" text-anchor="end" fill="#222" stroke="#222" stroke-width="0.12" >2.8</text>
<line x1="296.20" y1="63.10" x2="293.60" y2="63.10" stroke="#1e1e1e" stroke-width="1.1"/>
<text x="290.90" y="66.05" font-size="9.00" text-anchor="end" fill="#222" stroke="#222" stroke-width="0.12" >3.2</text>
<line x1="296.20" y1="44.57" x2="293.60" y2="44.57" stroke="#1e1e1e" stroke-width="1.1"/>
<text x="290.90" y="47.52" font-size="9.00" text-anchor="end" fill="#222" stroke="#222" stroke-width="0.12" >3.6</text>
<line x1="296.20" y1="26.03" x2="293.60" y2="26.03" stroke="#1e1e1e" stroke-width="1.1"/>
<text x="290.90" y="28.98" font-size="9.00" text-anchor="end" fill="#222" stroke="#222" stroke-width="0.12" >4.0</text>
<line x1="296.20" y1="7.50" x2="293.60" y2="7.50" stroke="#1e1e1e" stroke-width="1.1"/>
<text x="290.90" y="10.45" font-size="9.00" text-anchor="end" fill="#222" stroke="#222" stroke-width="0.12" >4.4</text>
<line x1="296.20" y1="127.97" x2="294.60" y2="127.97" stroke="#1e1e1e" stroke-width="1"/>
<line x1="296.20" y1="109.43" x2="294.60" y2="109.43" stroke="#1e1e1e" stroke-width="1"/>
<line x1="296.20" y1="90.90" x2="294.60" y2="90.90" stroke="#1e1e1e" stroke-width="1"/>
<line x1="296.20" y1="72.37" x2="294.60" y2="72.37" stroke="#1e1e1e" stroke-width="1"/>
<line x1="296.20" y1="53.83" x2="294.60" y2="53.83" stroke="#1e1e1e" stroke-width="1"/>
<line x1="296.20" y1="35.30" x2="294.60" y2="35.30" stroke="#1e1e1e" stroke-width="1"/>
<line x1="296.20" y1="16.77" x2="294.60" y2="16.77" stroke="#1e1e1e" stroke-width="1"/>
<line x1="296.20" y1="146.50" x2="296.20" y2="148.70" stroke="#1e1e1e" stroke-width="1.1"/>
<text x="296.20" y="157.50" font-size="9.00" text-anchor="middle" fill="#111" stroke="#111" stroke-width="0.12" >0</text>
<line x1="333.46" y1="146.50" x2="333.46" y2="148.70" stroke="#1e1e1e" stroke-width="1.1"/>
<text x="333.46" y="157.50" font-size="9.00" text-anchor="middle" fill="#111" stroke="#111" stroke-width="0.12" >100</text>
<line x1="370.72" y1="146.50" x2="370.72" y2="148.70" stroke="#1e1e1e" stroke-width="1.1"/>
<text x="370.72" y="157.50" font-size="9.00" text-anchor="middle" fill="#111" stroke="#111" stroke-width="0.12" >200</text>
<line x1="407.98" y1="146.50" x2="407.98" y2="148.70" stroke="#1e1e1e" stroke-width="1.1"/>
<text x="407.98" y="157.50" font-size="9.00" text-anchor="middle" fill="#111" stroke="#111" stroke-width="0.12" >300</text>
<line x1="445.24" y1="146.50" x2="445.24" y2="148.70" stroke="#1e1e1e" stroke-width="1.1"/>
<text x="445.24" y="157.50" font-size="9.00" text-anchor="middle" fill="#111" stroke="#111" stroke-width="0.12" >400</text>
<line x1="482.50" y1="146.50" x2="482.50" y2="148.70" stroke="#1e1e1e" stroke-width="1.1"/>
<text x="482.50" y="157.50" font-size="9.00" text-anchor="middle" fill="#111" stroke="#111" stroke-width="0.12" >500</text>
<line x1="314.83" y1="146.50" x2="314.83" y2="148.00" stroke="#1e1e1e" stroke-width="1"/>
<line x1="352.09" y1="146.50" x2="352.09" y2="148.00" stroke="#1e1e1e" stroke-width="1"/>
<line x1="389.35" y1="146.50" x2="389.35" y2="148.00" stroke="#1e1e1e" stroke-width="1"/>
<line x1="426.61" y1="146.50" x2="426.61" y2="148.00" stroke="#1e1e1e" stroke-width="1"/>
<line x1="463.87" y1="146.50" x2="463.87" y2="148.00" stroke="#1e1e1e" stroke-width="1"/>
<text x="305.70" y="21.00" font-size="9.00" text-anchor="start" fill="#111" stroke="#111" stroke-width="0.12" >8 ALD</text>
<line x1="421.80" y1="16.70" x2="441.30" y2="16.70" stroke="#262626" stroke-width="1.3"/>
<text x="444.30" y="19.90" font-size="9.00" text-anchor="start" fill="#111" stroke="#111" stroke-width="0.12" >1st D</text>
<line x1="421.80" y1="27.80" x2="441.30" y2="27.80" stroke="#ff2b2b" stroke-width="1.3"/>
<text x="444.30" y="31.00" font-size="9.00" text-anchor="start" fill="#111" stroke="#111" stroke-width="0.12" >2nd C/D</text>
<line x1="421.80" y1="38.90" x2="441.30" y2="38.90" stroke="#a02aa8" stroke-width="1.3"/>
<text x="444.30" y="42.10" font-size="9.00" text-anchor="start" fill="#111" stroke="#111" stroke-width="0.12" >5th C/D</text>
<line x1="421.80" y1="50.00" x2="441.30" y2="50.00" stroke="#0e958f" stroke-width="1.3"/>
<text x="444.30" y="53.20" font-size="9.00" text-anchor="start" fill="#111" stroke="#111" stroke-width="0.12" >10th C/D</text>
<text x="393.75" y="178.70" font-size="12.30" text-anchor="middle" fill="#111" stroke="#111" stroke-width="0.12" >Capacity(mAh g<tspan font-size="8" dy="-4.5">&#8722;1</tspan><tspan dy="4.5">)</tspan></text>
<text transform="translate(267.20,77.00) rotate(-90)" font-size="12" text-anchor="middle" fill="#111" stroke="#111" stroke-width="0.2">Voltage(V)</text>
<text x="253.20" y="19.50" font-size="16.00" text-anchor="start" fill="#111" stroke="#111" stroke-width="0.00" >(b)</text>
<path d="M50.50,284.00 L50.59,283.44 L50.65,282.86 L50.71,282.28 L50.76,281.69 L50.81,281.11 L50.88,280.53 L50.98,279.98 L51.11,279.45 L51.28,278.96 L51.50,278.50 L51.74,278.12 L52.00,277.76 L52.29,277.42 L52.60,277.09 L52.93,276.79 L53.29,276.51 L53.68,276.23 L54.09,275.98 L54.53,275.73 L55.00,275.50 L55.75,275.18 L56.58,274.91 L57.47,274.66 L58.42,274.46 L59.42,274.28 L60.47,274.13 L61.56,274.00 L62.68,273.88 L63.83,273.79 L65.00,273.70 L66.70,273.62 L68.49,273.61 L70.36,273.65 L72.30,273.73 L74.31,273.84 L76.37,273.98 L78.48,274.12 L80.63,274.26 L82.81,274.39 L85.00,274.50 L87.77,274.61 L90.66,274.72 L93.64,274.83 L96.70,274.95 L99.79,275.07 L102.91,275.20 L106.01,275.33 L109.08,275.47 L112.08,275.63 L115.00,275.80 L117.61,275.97 L120.19,276.14 L122.76,276.32 L125.30,276.51 L127.82,276.71 L130.31,276.91 L132.78,277.12 L135.22,277.34 L137.63,277.57 L140.00,277.80 L142.12,278.02 L144.26,278.24 L146.39,278.47 L148.50,278.70 L150.58,278.94 L152.61,279.19 L154.58,279.44 L156.48,279.69 L158.29,279.94 L160.00,280.20 L161.14,280.38 L162.21,280.55 L163.23,280.72 L164.21,280.89 L165.17,281.06 L166.11,281.24 L167.05,281.43 L168.00,281.64 L168.98,281.86 L170.00,282.10 L171.18,282.39 L172.38,282.71 L173.60,283.05 L174.84,283.41 L176.08,283.78 L177.32,284.16 L178.55,284.54 L179.76,284.93 L180.95,285.32 L182.10,285.70 L183.12,286.04 L184.12,286.39 L185.12,286.74 L186.10,287.09 L187.07,287.45 L188.03,287.81 L188.97,288.18 L189.90,288.54 L190.81,288.92 L191.70,289.30 L192.49,289.64 L193.27,289.97 L194.04,290.30 L194.81,290.63 L195.56,290.96 L196.29,291.31 L197.01,291.68 L197.70,292.06 L198.36,292.46 L199.00,292.90 L199.56,293.32 L200.08,293.76 L200.59,294.21 L201.07,294.68 L201.54,295.17 L202.00,295.66 L202.45,296.18 L202.90,296.70 L203.35,297.25 L203.80,297.80 L204.31,298.44 L204.82,299.11 L205.32,299.80 L205.82,300.50 L206.31,301.23 L206.80,301.96 L207.27,302.71 L207.73,303.47 L208.17,304.23 L208.60,305.00 L209.02,305.81 L209.43,306.65 L209.82,307.51 L210.19,308.38 L210.55,309.25 L210.91,310.13 L211.25,311.00 L211.60,311.85 L211.95,312.69 L212.30,313.50 L212.61,314.19 L212.92,314.88 L213.22,315.54 L213.52,316.20 L213.82,316.85 L214.11,317.50 L214.41,318.15 L214.70,318.79 L215.00,319.44 L215.30,320.10" fill="none" stroke="#262626" stroke-width="1.40" stroke-linejoin="round" stroke-linecap="round" />
<path d="M50.50,324.00 L50.53,320.60 L50.55,317.18 L50.58,313.77 L50.60,310.35 L50.62,306.94 L50.65,303.53 L50.68,300.12 L50.71,296.73 L50.75,293.36 L50.80,290.00 L50.84,286.70 L50.88,283.31 L50.92,279.88 L50.95,276.45 L51.00,273.05 L51.06,269.73 L51.13,266.52 L51.23,263.47 L51.35,260.62 L51.50,258.00 L51.61,256.46 L51.71,255.01 L51.81,253.63 L51.92,252.32 L52.04,251.05 L52.18,249.82 L52.34,248.62 L52.53,247.42 L52.74,246.22 L53.00,245.00 L53.25,243.82 L53.51,242.61 L53.77,241.39 L54.05,240.17 L54.36,238.98 L54.71,237.83 L55.11,236.74 L55.56,235.73 L56.09,234.81 L56.70,234.00 L57.29,233.40 L57.92,232.89 L58.60,232.45 L59.32,232.06 L60.08,231.72 L60.88,231.40 L61.71,231.11 L62.58,230.82 L63.48,230.52 L64.40,230.20 L65.77,229.75 L67.25,229.32 L68.82,228.91 L70.47,228.53 L72.16,228.15 L73.89,227.79 L75.64,227.44 L77.39,227.10 L79.11,226.75 L80.80,226.40 L82.51,226.04 L84.26,225.70 L86.02,225.36 L87.79,225.02 L89.56,224.69 L91.32,224.37 L93.05,224.05 L94.75,223.73 L96.40,223.41 L98.00,223.10 L99.29,222.84 L100.54,222.59 L101.76,222.35 L102.96,222.11 L104.14,221.86 L105.30,221.62 L106.47,221.38 L107.63,221.13 L108.81,220.87 L110.00,220.60 L111.21,220.32 L112.42,220.05 L113.64,219.77 L114.85,219.49 L116.06,219.20 L117.28,218.91 L118.49,218.60 L119.69,218.28 L120.90,217.95 L122.10,217.60 L123.31,217.23 L124.52,216.85 L125.72,216.46 L126.92,216.06 L128.12,215.65 L129.32,215.22 L130.52,214.78 L131.71,214.33 L132.91,213.87 L134.10,213.40 L135.32,212.91 L136.54,212.40 L137.75,211.89 L138.97,211.36 L140.18,210.82 L141.39,210.26 L142.60,209.70 L143.80,209.11 L145.00,208.52 L146.20,207.90 L147.44,207.24 L148.70,206.55 L149.96,205.83 L151.23,205.10 L152.48,204.35 L153.72,203.60 L154.93,202.86 L156.10,202.12 L157.23,201.40 L158.30,200.70 L159.11,200.16 L159.88,199.63 L160.62,199.11 L161.33,198.59 L162.03,198.07 L162.72,197.56 L163.41,197.05 L164.09,196.53 L164.79,196.02 L165.50,195.50" fill="none" stroke="#ff2b2b" stroke-width="1.40" stroke-linejoin="round" stroke-linecap="round" />
<path d="M50.30,221.00 L50.46,222.01 L50.61,223.04 L50.75,224.08 L50.88,225.12 L51.02,226.15 L51.17,227.18 L51.34,228.18 L51.53,229.16 L51.75,230.10 L52.00,231.00 L52.24,231.72 L52.49,232.43 L52.76,233.11 L53.04,233.77 L53.34,234.42 L53.65,235.05 L53.97,235.68 L54.31,236.29 L54.65,236.90 L55.00,237.50 L55.33,238.07 L55.66,238.63 L55.99,239.17 L56.33,239.71 L56.68,240.24 L57.05,240.76 L57.46,241.28 L57.89,241.79 L58.37,242.30 L58.90,242.80 L59.73,243.49 L60.67,244.18 L61.69,244.85 L62.79,245.52 L63.93,246.17 L65.11,246.81 L66.31,247.45 L67.50,248.07 L68.67,248.69 L69.80,249.30 L70.88,249.89 L71.96,250.46 L73.03,251.01 L74.11,251.56 L75.19,252.10 L76.28,252.64 L77.38,253.17 L78.50,253.71 L79.64,254.25 L80.80,254.80 L82.14,255.42 L83.51,256.05 L84.90,256.67 L86.31,257.29 L87.74,257.92 L89.18,258.55 L90.63,259.18 L92.09,259.81 L93.54,260.45 L95.00,261.10 L96.53,261.78 L98.08,262.45 L99.64,263.13 L101.20,263.80 L102.77,264.49 L104.34,265.18 L105.92,265.89 L107.48,266.60 L109.05,267.34 L110.60,268.10 L112.19,268.90 L113.79,269.71 L115.40,270.55 L117.01,271.40 L118.60,272.26 L120.19,273.13 L121.76,274.02 L123.31,274.91 L124.82,275.80 L126.30,276.70 L127.64,277.53 L128.96,278.35 L130.27,279.18 L131.56,280.02 L132.83,280.86 L134.08,281.72 L135.30,282.59 L136.50,283.47 L137.66,284.38 L138.80,285.30 L139.84,286.18 L140.85,287.07 L141.85,287.97 L142.82,288.88 L143.77,289.81 L144.70,290.75 L145.59,291.71 L146.46,292.68 L147.30,293.68 L148.10,294.70 L148.85,295.71 L149.56,296.73 L150.24,297.77 L150.88,298.83 L151.51,299.90 L152.11,301.00 L152.70,302.11 L153.27,303.25 L153.84,304.41 L154.40,305.60 L155.01,306.98 L155.59,308.40 L156.15,309.86 L156.69,311.36 L157.21,312.87 L157.72,314.40 L158.24,315.94 L158.75,317.47 L159.27,319.00 L159.80,320.50" fill="none" stroke="#ff2b2b" stroke-width="1.40" stroke-linejoin="round" stroke-linecap="round" />
<path d="M50.50,323.60 L50.51,320.18 L50.52,316.72 L50.53,313.24 L50.53,309.75 L50.54,306.27 L50.55,302.82 L50.56,299.42 L50.57,296.07 L50.58,292.79 L50.60,289.60 L50.61,286.91 L50.62,284.23 L50.63,281.58 L50.65,278.96 L50.66,276.38 L50.68,273.87 L50.70,271.42 L50.72,269.05 L50.76,266.77 L50.80,264.60 L50.83,263.07 L50.85,261.60 L50.86,260.17 L50.87,258.79 L50.89,257.45 L50.93,256.14 L50.98,254.85 L51.05,253.59 L51.16,252.34 L51.30,251.10 L51.44,250.03 L51.60,248.96 L51.76,247.90 L51.94,246.85 L52.14,245.82 L52.36,244.82 L52.61,243.86 L52.88,242.95 L53.17,242.09 L53.50,241.30 L53.75,240.76 L54.01,240.25 L54.28,239.78 L54.56,239.33 L54.86,238.90 L55.18,238.49 L55.51,238.08 L55.88,237.69 L56.27,237.30 L56.70,236.90 L57.29,236.40 L57.92,235.92 L58.60,235.45 L59.32,234.99 L60.08,234.55 L60.87,234.12 L61.71,233.70 L62.57,233.29 L63.47,232.89 L64.40,232.50 L65.77,231.99 L67.25,231.51 L68.82,231.06 L70.46,230.63 L72.16,230.22 L73.89,229.82 L75.64,229.42 L77.39,229.03 L79.11,228.62 L80.80,228.20 L82.52,227.77 L84.27,227.35 L86.04,226.94 L87.82,226.54 L89.59,226.13 L91.35,225.70 L93.08,225.27 L94.78,224.81 L96.42,224.32 L98.00,223.80 L99.31,223.33 L100.57,222.83 L101.80,222.32 L103.00,221.80 L104.17,221.26 L105.34,220.71 L106.50,220.15 L107.65,219.58 L108.82,218.99 L110.00,218.40 L111.22,217.78 L112.44,217.15 L113.65,216.51 L114.87,215.85 L116.08,215.18 L117.29,214.51 L118.50,213.82 L119.70,213.12 L120.90,212.41 L122.10,211.70 L123.31,210.96 L124.50,210.20 L125.68,209.43 L126.86,208.65 L128.04,207.86 L129.22,207.07 L130.41,206.27 L131.62,205.48 L132.85,204.69 L134.10,203.90 L135.49,203.05 L136.90,202.20 L138.34,201.35 L139.79,200.50 L141.25,199.65 L142.73,198.80 L144.20,197.95 L145.68,197.10 L147.14,196.25 L148.60,195.40" fill="none" stroke="#a02aa8" stroke-width="1.40" stroke-linejoin="round" stroke-linecap="round" />
<path d="M50.30,220.60 L50.51,221.81 L50.71,223.04 L50.90,224.28 L51.10,225.53 L51.29,226.78 L51.49,228.00 L51.70,229.20 L51.92,230.35 L52.15,231.46 L52.40,232.50 L52.59,233.25 L52.77,233.97 L52.95,234.67 L53.14,235.35 L53.33,236.00 L53.54,236.65 L53.77,237.27 L54.02,237.89 L54.29,238.50 L54.60,239.10 L54.93,239.69 L55.27,240.26 L55.64,240.82 L56.02,241.37 L56.42,241.90 L56.85,242.43 L57.31,242.95 L57.80,243.47 L58.33,243.98 L58.90,244.50 L59.75,245.20 L60.70,245.89 L61.73,246.57 L62.83,247.25 L63.97,247.92 L65.14,248.57 L66.32,249.22 L67.51,249.86 L68.67,250.48 L69.80,251.10 L70.88,251.69 L71.96,252.25 L73.04,252.80 L74.11,253.33 L75.20,253.86 L76.29,254.39 L77.39,254.92 L78.51,255.47 L79.64,256.02 L80.80,256.60 L82.14,257.28 L83.51,257.98 L84.90,258.70 L86.31,259.42 L87.74,260.16 L89.17,260.90 L90.62,261.63 L92.08,262.37 L93.54,263.09 L95.00,263.80 L96.53,264.52 L98.10,265.22 L99.68,265.91 L101.28,266.60 L102.88,267.29 L104.48,267.98 L106.05,268.68 L107.61,269.40 L109.13,270.14 L110.60,270.90 L111.93,271.63 L113.24,272.36 L114.53,273.10 L115.80,273.86 L117.05,274.63 L118.29,275.41 L119.51,276.20 L120.72,277.02 L121.91,277.85 L123.10,278.70 L124.27,279.56 L125.43,280.43 L126.59,281.31 L127.74,282.21 L128.87,283.12 L129.98,284.05 L131.06,285.01 L132.11,285.98 L133.13,286.98 L134.10,288.00 L135.00,289.00 L135.88,290.00 L136.73,291.00 L137.55,292.03 L138.34,293.07 L139.10,294.16 L139.84,295.28 L140.55,296.46 L141.24,297.69 L141.90,299.00 L142.69,300.79 L143.41,302.71 L144.07,304.75 L144.68,306.87 L145.26,309.06 L145.82,311.28 L146.37,313.52 L146.93,315.75 L147.50,317.95 L148.10,320.10" fill="none" stroke="#a02aa8" stroke-width="1.40" stroke-linejoin="round" stroke-linecap="round" />
<path d="M50.50,324.40 L50.51,320.98 L50.52,317.52 L50.53,314.04 L50.53,310.55 L50.54,307.07 L50.55,303.62 L50.56,300.22 L50.57,296.87 L50.58,293.59 L50.60,290.40 L50.61,287.71 L50.62,285.03 L50.63,282.38 L50.65,279.76 L50.66,277.18 L50.68,274.67 L50.70,272.22 L50.72,269.85 L50.76,267.57 L50.80,265.40 L50.83,263.87 L50.85,262.40 L50.86,260.97 L50.87,259.59 L50.89,258.25 L50.93,256.94 L50.98,255.65 L51.05,254.39 L51.16,253.14 L51.30,251.90 L51.44,250.83 L51.60,249.76 L51.76,248.70 L51.94,247.65 L52.14,246.62 L52.36,245.62 L52.61,244.66 L52.88,243.75 L53.17,242.89 L53.50,242.10 L53.75,241.56 L54.01,241.05 L54.28,240.58 L54.56,240.13 L54.86,239.70 L55.18,239.29 L55.51,238.88 L55.88,238.49 L56.27,238.10 L56.70,237.70 L57.29,237.20 L57.92,236.72 L58.60,236.25 L59.32,235.79 L60.08,235.35 L60.87,234.92 L61.71,234.50 L62.57,234.09 L63.47,233.69 L64.40,233.30 L65.77,232.79 L67.25,232.31 L68.82,231.86 L70.46,231.43 L72.16,231.02 L73.89,230.62 L75.64,230.22 L77.39,229.83 L79.11,229.42 L80.80,229.00 L82.52,228.57 L84.27,228.15 L86.04,227.74 L87.82,227.34 L89.59,226.93 L91.35,226.50 L93.08,226.07 L94.78,225.61 L96.42,225.12 L98.00,224.60 L99.31,224.13 L100.57,223.63 L101.80,223.12 L103.00,222.60 L104.17,222.06 L105.34,221.51 L106.50,220.95 L107.65,220.38 L108.82,219.79 L110.00,219.20 L111.22,218.58 L112.44,217.95 L113.65,217.31 L114.87,216.65 L116.08,215.98 L117.29,215.31 L118.50,214.62 L119.70,213.92 L120.90,213.21 L122.10,212.50 L123.31,211.76 L124.50,211.00 L125.68,210.23 L126.86,209.45 L128.04,208.66 L129.22,207.87 L130.41,207.07 L131.62,206.28 L132.85,205.49 L134.10,204.70 L135.49,203.85 L136.90,203.00 L138.34,202.15 L139.79,201.30 L141.25,200.45 L142.73,199.60 L144.20,198.75 L145.68,197.90 L147.14,197.05 L148.60,196.20" fill="none" stroke="#0e958f" stroke-width="1.40" stroke-linejoin="round" stroke-linecap="round" />
<path d="M50.30,221.40 L50.51,222.61 L50.71,223.84 L50.90,225.08 L51.10,226.33 L51.29,227.58 L51.49,228.80 L51.70,230.00 L51.92,231.15 L52.15,232.26 L52.40,233.30 L52.59,234.05 L52.77,234.77 L52.95,235.47 L53.14,236.15 L53.33,236.80 L53.54,237.45 L53.77,238.07 L54.02,238.69 L54.29,239.30 L54.60,239.90 L54.93,240.49 L55.27,241.06 L55.64,241.62 L56.02,242.17 L56.42,242.70 L56.85,243.23 L57.31,243.75 L57.80,244.27 L58.33,244.78 L58.90,245.30 L59.75,246.00 L60.70,246.69 L61.73,247.37 L62.83,248.05 L63.97,248.72 L65.14,249.37 L66.32,250.02 L67.51,250.66 L68.67,251.28 L69.80,251.90 L70.88,252.49 L71.96,253.05 L73.04,253.60 L74.11,254.13 L75.20,254.66 L76.29,255.19 L77.39,255.72 L78.51,256.27 L79.64,256.82 L80.80,257.40 L82.14,258.08 L83.51,258.78 L84.90,259.50 L86.31,260.22 L87.74,260.96 L89.17,261.70 L90.62,262.43 L92.08,263.17 L93.54,263.89 L95.00,264.60 L96.53,265.32 L98.10,266.02 L99.68,266.71 L101.28,267.40 L102.88,268.09 L104.48,268.78 L106.05,269.48 L107.61,270.20 L109.13,270.94 L110.60,271.70 L111.93,272.43 L113.24,273.16 L114.53,273.90 L115.80,274.66 L117.05,275.43 L118.29,276.21 L119.51,277.00 L120.72,277.82 L121.91,278.65 L123.10,279.50 L124.27,280.36 L125.43,281.23 L126.59,282.11 L127.74,283.01 L128.87,283.92 L129.98,284.85 L131.06,285.81 L132.11,286.78 L133.13,287.78 L134.10,288.80 L135.00,289.80 L135.88,290.80 L136.73,291.80 L137.55,292.83 L138.34,293.87 L139.10,294.96 L139.84,296.08 L140.55,297.26 L141.24,298.49 L141.90,299.80 L142.69,301.59 L143.41,303.51 L144.07,305.55 L144.68,307.67 L145.26,309.86 L145.82,312.08 L146.37,314.32 L146.93,316.55 L147.50,318.75 L148.10,320.90" fill="none" stroke="#0e958f" stroke-width="1.40" stroke-linejoin="round" stroke-linecap="round" />
<rect x="50.00" y="186.50" width="186.00" height="139.00" fill="none" stroke="#1e1e1e" stroke-width="1.10"/>
<line x1="50.00" y1="316.23" x2="47.40" y2="316.23" stroke="#1e1e1e" stroke-width="1.1"/>
<text x="44.70" y="319.18" font-size="9.00" text-anchor="end" fill="#222" stroke="#222" stroke-width="0.12" >1.6</text>
<line x1="50.00" y1="297.70" x2="47.40" y2="297.70" stroke="#1e1e1e" stroke-width="1.1"/>
<text x="44.70" y="300.65" font-size="9.00" text-anchor="end" fill="#222" stroke="#222" stroke-width="0.12" >2.0</text>
<line x1="50.00" y1="279.17" x2="47.40" y2="279.17" stroke="#1e1e1e" stroke-width="1.1"/>
<text x="44.70" y="282.12" font-size="9.00" text-anchor="end" fill="#222" stroke="#222" stroke-width="0.12" >2.4</text>
<line x1="50.00" y1="260.63" x2="47.40" y2="260.63" stroke="#1e1e1e" stroke-width="1.1"/>
<text x="44.70" y="263.58" font-size="9.00" text-anchor="end" fill="#222" stroke="#222" stroke-width="0.12" >2.8</text>
<line x1="50.00" y1="242.10" x2="47.40" y2="242.10" stroke="#1e1e1e" stroke-width="1.1"/>
<text x="44.70" y="245.05" font-size="9.00" text-anchor="end" fill="#222" stroke="#222" stroke-width="0.12" >3.2</text>
<line x1="50.00" y1="223.57" x2="47.40" y2="223.57" stroke="#1e1e1e" stroke-width="1.1"/>
<text x="44.70" y="226.52" font-size="9.00" text-anchor="end" fill="#222" stroke="#222" stroke-width="0.12" >3.6</text>
<line x1="50.00" y1="205.03" x2="47.40" y2="205.03" stroke="#1e1e1e" stroke-width="1.1"/>
<text x="44.70" y="207.98" font-size="9.00" text-anchor="end" fill="#222" stroke="#222" stroke-width="0.12" >4.0</text>
<line x1="50.00" y1="186.50" x2="47.40" y2="186.50" stroke="#1e1e1e" stroke-width="1.1"/>
<text x="44.70" y="189.45" font-size="9.00" text-anchor="end" fill="#222" stroke="#222" stroke-width="0.12" >4.4</text>
<line x1="50.00" y1="306.97" x2="48.40" y2="306.97" stroke="#1e1e1e" stroke-width="1"/>
<line x1="50.00" y1="288.43" x2="48.40" y2="288.43" stroke="#1e1e1e" stroke-width="1"/>
<line x1="50.00" y1="269.90" x2="48.40" y2="269.90" stroke="#1e1e1e" stroke-width="1"/>
<line x1="50.00" y1="251.37" x2="48.40" y2="251.37" stroke="#1e1e1e" stroke-width="1"/>
<line x1="50.00" y1="232.83" x2="48.40" y2="232.83" stroke="#1e1e1e" stroke-width="1"/>
<line x1="50.00" y1="214.30" x2="48.40" y2="214.30" stroke="#1e1e1e" stroke-width="1"/>
<line x1="50.00" y1="195.77" x2="48.40" y2="195.77" stroke="#1e1e1e" stroke-width="1"/>
<line x1="50.00" y1="325.50" x2="50.00" y2="327.70" stroke="#1e1e1e" stroke-width="1.1"/>
<text x="50.00" y="336.50" font-size="9.00" text-anchor="middle" fill="#111" stroke="#111" stroke-width="0.12" >0</text>
<line x1="83.82" y1="325.50" x2="83.82" y2="327.70" stroke="#1e1e1e" stroke-width="1.1"/>
<text x="83.82" y="336.50" font-size="9.00" text-anchor="middle" fill="#111" stroke="#111" stroke-width="0.12" >100</text>
<line x1="117.64" y1="325.50" x2="117.64" y2="327.70" stroke="#1e1e1e" stroke-width="1.1"/>
<text x="117.64" y="336.50" font-size="9.00" text-anchor="middle" fill="#111" stroke="#111" stroke-width="0.12" >200</text>
<line x1="151.45" y1="325.50" x2="151.45" y2="327.70" stroke="#1e1e1e" stroke-width="1.1"/>
<text x="151.45" y="336.50" font-size="9.00" text-anchor="middle" fill="#111" stroke="#111" stroke-width="0.12" >300</text>
<line x1="185.27" y1="325.50" x2="185.27" y2="327.70" stroke="#1e1e1e" stroke-width="1.1"/>
<text x="185.27" y="336.50" font-size="9.00" text-anchor="middle" fill="#111" stroke="#111" stroke-width="0.12" >400</text>
<line x1="219.09" y1="325.50" x2="219.09" y2="327.70" stroke="#1e1e1e" stroke-width="1.1"/>
<text x="219.09" y="336.50" font-size="9.00" text-anchor="middle" fill="#111" stroke="#111" stroke-width="0.12" >500</text>
<line x1="66.91" y1="325.50" x2="66.91" y2="327.00" stroke="#1e1e1e" stroke-width="1"/>
<line x1="100.73" y1="325.50" x2="100.73" y2="327.00" stroke="#1e1e1e" stroke-width="1"/>
<line x1="134.55" y1="325.50" x2="134.55" y2="327.00" stroke="#1e1e1e" stroke-width="1"/>
<line x1="168.36" y1="325.50" x2="168.36" y2="327.00" stroke="#1e1e1e" stroke-width="1"/>
<line x1="202.18" y1="325.50" x2="202.18" y2="327.00" stroke="#1e1e1e" stroke-width="1"/>
<text x="60.70" y="200.20" font-size="9.00" text-anchor="start" fill="#111" stroke="#111" stroke-width="0.12" >12 ALD</text>
<line x1="175.20" y1="195.10" x2="194.70" y2="195.10" stroke="#262626" stroke-width="1.3"/>
<text x="197.70" y="198.30" font-size="9.00" text-anchor="start" fill="#111" stroke="#111" stroke-width="0.12" >1st D</text>
<line x1="175.20" y1="206.20" x2="194.70" y2="206.20" stroke="#ff2b2b" stroke-width="1.3"/>
<text x="197.70" y="209.40" font-size="9.00" text-anchor="start" fill="#111" stroke="#111" stroke-width="0.12" >2nd C/D</text>
<line x1="175.20" y1="217.30" x2="194.70" y2="217.30" stroke="#a02aa8" stroke-width="1.3"/>
<text x="197.70" y="220.50" font-size="9.00" text-anchor="start" fill="#111" stroke="#111" stroke-width="0.12" >5th C/D</text>
<line x1="175.20" y1="228.40" x2="194.70" y2="228.40" stroke="#0e958f" stroke-width="1.3"/>
<text x="197.70" y="231.60" font-size="9.00" text-anchor="start" fill="#111" stroke="#111" stroke-width="0.12" >10th C/D</text>
<text x="147.00" y="354.80" font-size="12.30" text-anchor="middle" fill="#111" stroke="#111" stroke-width="0.12" >Capacity(mAh g<tspan font-size="8" dy="-4.5">&#8722;1</tspan><tspan dy="4.5">)</tspan></text>
<text transform="translate(21.00,256.00) rotate(-90)" font-size="12" text-anchor="middle" fill="#111" stroke="#111" stroke-width="0.2">Voltage(V)</text>
<text x="7.00" y="199.80" font-size="16.00" text-anchor="start" fill="#111" stroke="#111" stroke-width="0.00" >(c)</text>
<path d="M296.20,268.00 L296.24,268.81 L296.27,269.62 L296.30,270.44 L296.33,271.26 L296.36,272.07 L296.39,272.89 L296.43,273.69 L296.48,274.48 L296.53,275.25 L296.60,276.00 L296.67,276.65 L296.74,277.29 L296.81,277.93 L296.89,278.57 L296.97,279.19 L297.06,279.80 L297.16,280.39 L297.27,280.95 L297.38,281.49 L297.50,282.00 L297.59,282.36 L297.68,282.71 L297.77,283.06 L297.86,283.40 L297.96,283.73 L298.06,284.04 L298.18,284.32 L298.30,284.58 L298.44,284.81 L298.60,285.00 L298.72,285.11 L298.83,285.21 L298.96,285.30 L299.09,285.37 L299.22,285.44 L299.36,285.49 L299.51,285.53 L299.66,285.56 L299.83,285.59 L300.00,285.60 L300.31,285.59 L300.66,285.54 L301.03,285.44 L301.42,285.32 L301.84,285.17 L302.26,285.01 L302.70,284.85 L303.13,284.69 L303.57,284.53 L304.00,284.40 L304.47,284.26 L304.94,284.13 L305.41,283.99 L305.88,283.85 L306.36,283.71 L306.86,283.57 L307.38,283.43 L307.92,283.29 L308.49,283.15 L309.10,283.00 L310.15,282.76 L311.31,282.51 L312.57,282.24 L313.90,281.97 L315.26,281.70 L316.64,281.44 L318.01,281.18 L319.34,280.93 L320.61,280.71 L321.80,280.50 L322.67,280.35 L323.49,280.21 L324.27,280.08 L325.03,279.96 L325.78,279.84 L326.54,279.73 L327.32,279.62 L328.15,279.52 L329.04,279.41 L330.00,279.30 L331.67,279.13 L333.50,278.96 L335.46,278.80 L337.52,278.64 L339.65,278.49 L341.83,278.34 L344.02,278.20 L346.20,278.06 L348.33,277.93 L350.40,277.80 L352.39,277.68 L354.39,277.55 L356.39,277.43 L358.39,277.32 L360.39,277.20 L362.37,277.10 L364.32,277.01 L366.25,276.92 L368.15,276.85 L370.00,276.80 L371.56,276.76 L373.07,276.72 L374.53,276.69 L375.96,276.66 L377.39,276.64 L378.82,276.64 L380.29,276.65 L381.79,276.68 L383.36,276.73 L385.00,276.80 L387.28,276.93 L389.71,277.09 L392.27,277.29 L394.90,277.51 L397.56,277.76 L400.22,278.03 L402.84,278.33 L405.37,278.64 L407.77,278.96 L410.00,279.30 L411.58,279.56 L413.09,279.82 L414.55,280.08 L415.96,280.35 L417.33,280.64 L418.69,280.94 L420.03,281.27 L421.37,281.61 L422.72,281.99 L424.10,282.40 L425.54,282.85 L427.01,283.34 L428.49,283.85 L429.97,284.39 L431.44,284.95 L432.88,285.53 L434.29,286.13 L435.66,286.74 L436.96,287.37 L438.20,288.00 L439.17,288.52 L440.10,289.05 L441.00,289.58 L441.88,290.12 L442.73,290.68 L443.55,291.24 L444.35,291.83 L445.12,292.43 L445.87,293.05 L446.60,293.70 L447.26,294.33 L447.90,294.98 L448.52,295.64 L449.11,296.33 L449.68,297.02 L450.24,297.73 L450.77,298.46 L451.30,299.19 L451.80,299.94 L452.30,300.70 L452.79,301.49 L453.25,302.29 L453.69,303.11 L454.11,303.94 L454.52,304.78 L454.91,305.64 L455.31,306.51 L455.70,307.39 L456.10,308.29 L456.50,309.20 L456.96,310.25 L457.42,311.33 L457.87,312.43 L458.32,313.56 L458.77,314.69 L459.21,315.84 L459.66,316.99 L460.10,318.13 L460.55,319.27 L461.00,320.40" fill="none" stroke="#262626" stroke-width="1.40" stroke-linejoin="round" stroke-linecap="round" />
<path d="M296.50,297.30 L296.59,293.49 L296.67,289.55 L296.74,285.54 L296.81,281.52 L296.89,277.53 L296.97,273.63 L297.07,269.87 L297.19,266.31 L297.33,263.00 L297.50,260.00 L297.61,258.29 L297.71,256.66 L297.81,255.09 L297.92,253.59 L298.03,252.15 L298.17,250.79 L298.32,249.49 L298.51,248.26 L298.73,247.10 L299.00,246.00 L299.20,245.32 L299.41,244.68 L299.63,244.06 L299.87,243.48 L300.11,242.92 L300.37,242.39 L300.64,241.89 L300.92,241.40 L301.20,240.94 L301.50,240.50 L301.73,240.17 L301.96,239.86 L302.19,239.57 L302.43,239.29 L302.67,239.03 L302.93,238.78 L303.20,238.53 L303.50,238.29 L303.84,238.05 L304.20,237.80 L304.85,237.41 L305.59,237.04 L306.40,236.68 L307.27,236.33 L308.18,236.00 L309.14,235.66 L310.12,235.34 L311.12,235.02 L312.11,234.71 L313.10,234.40 L314.27,234.05 L315.48,233.71 L316.73,233.38 L318.00,233.06 L319.29,232.75 L320.60,232.44 L321.91,232.13 L323.22,231.83 L324.52,231.52 L325.80,231.20 L327.07,230.88 L328.34,230.54 L329.59,230.21 L330.85,229.87 L332.11,229.54 L333.38,229.21 L334.66,228.89 L335.96,228.58 L337.27,228.28 L338.60,228.00 L340.08,227.72 L341.60,227.48 L343.13,227.26 L344.69,227.05 L346.26,226.85 L347.83,226.65 L349.40,226.43 L350.95,226.19 L352.49,225.91 L354.00,225.60 L355.45,225.26 L356.88,224.90 L358.30,224.52 L359.71,224.12 L361.12,223.70 L362.52,223.27 L363.91,222.82 L365.31,222.36 L366.70,221.88 L368.10,221.40 L369.52,220.89 L370.94,220.37 L372.36,219.83 L373.77,219.28 L375.18,218.71 L376.59,218.13 L378.00,217.54 L379.40,216.94 L380.80,216.32 L382.20,215.70 L383.62,215.05 L385.04,214.40 L386.46,213.73 L387.88,213.05 L389.29,212.36 L390.70,211.65 L392.11,210.94 L393.51,210.20 L394.91,209.46 L396.30,208.70 L397.73,207.89 L399.17,207.03 L400.61,206.14 L402.05,205.23 L403.48,204.31 L404.90,203.41 L406.30,202.53 L407.67,201.70 L409.01,200.91 L410.30,200.20 L411.28,199.69 L412.24,199.22 L413.18,198.78 L414.09,198.36 L415.00,197.96 L415.90,197.58 L416.79,197.19 L417.69,196.81 L418.59,196.41 L419.50,196.00" fill="none" stroke="#ff2b2b" stroke-width="1.40" stroke-linejoin="round" stroke-linecap="round" />
<path d="M296.00,214.00 L296.17,214.89 L296.33,215.78 L296.48,216.68 L296.63,217.57 L296.78,218.47 L296.95,219.36 L297.12,220.25 L297.32,221.14 L297.55,222.02 L297.80,222.90 L298.09,223.81 L298.40,224.73 L298.74,225.66 L299.09,226.58 L299.46,227.49 L299.85,228.40 L300.26,229.29 L300.69,230.15 L301.14,230.99 L301.60,231.80 L302.03,232.52 L302.46,233.21 L302.89,233.89 L303.34,234.55 L303.81,235.19 L304.30,235.82 L304.83,236.43 L305.40,237.03 L306.02,237.62 L306.70,238.20 L307.70,238.94 L308.82,239.63 L310.04,240.29 L311.33,240.93 L312.67,241.55 L314.05,242.15 L315.45,242.75 L316.83,243.36 L318.19,243.97 L319.50,244.60 L320.76,245.24 L321.99,245.87 L323.20,246.49 L324.41,247.12 L325.63,247.75 L326.86,248.38 L328.13,249.02 L329.43,249.67 L330.78,250.33 L332.20,251.00 L334.15,251.91 L336.24,252.88 L338.43,253.89 L340.69,254.92 L342.99,255.95 L345.30,256.96 L347.59,257.94 L349.82,258.87 L351.97,259.73 L354.00,260.50 L355.52,261.04 L357.00,261.51 L358.44,261.94 L359.85,262.33 L361.24,262.71 L362.61,263.08 L363.98,263.46 L365.34,263.87 L366.72,264.31 L368.10,264.80 L369.54,265.35 L370.99,265.92 L372.45,266.51 L373.91,267.13 L375.36,267.76 L376.79,268.41 L378.20,269.07 L379.58,269.74 L380.91,270.42 L382.20,271.10 L383.28,271.69 L384.33,272.29 L385.36,272.88 L386.36,273.48 L387.34,274.10 L388.30,274.73 L389.25,275.38 L390.18,276.05 L391.09,276.76 L392.00,277.50 L392.92,278.30 L393.84,279.12 L394.73,279.96 L395.61,280.83 L396.47,281.73 L397.32,282.65 L398.14,283.60 L398.95,284.58 L399.74,285.57 L400.50,286.60 L401.30,287.75 L402.08,288.95 L402.84,290.20 L403.58,291.48 L404.30,292.78 L404.99,294.10 L405.66,295.42 L406.30,296.73 L406.91,298.03 L407.50,299.30 L408.01,300.44 L408.48,301.59 L408.92,302.73 L409.35,303.88 L409.75,305.02 L410.14,306.15 L410.53,307.28 L410.92,308.40 L411.30,309.50 L411.70,310.60 L412.07,311.61 L412.44,312.60 L412.80,313.59 L413.16,314.57 L413.52,315.54 L413.87,316.51 L414.23,317.48 L414.58,318.45 L414.94,319.42 L415.30,320.40" fill="none" stroke="#ff2b2b" stroke-width="1.40" stroke-linejoin="round" stroke-linecap="round" />
<path d="M296.50,300.00 L296.54,296.43 L296.58,292.77 L296.61,289.04 L296.64,285.30 L296.67,281.59 L296.71,277.95 L296.76,274.42 L296.82,271.06 L296.90,267.91 L297.00,265.00 L297.07,263.23 L297.13,261.53 L297.18,259.90 L297.25,258.33 L297.32,256.83 L297.40,255.38 L297.51,253.98 L297.64,252.62 L297.80,251.29 L298.00,250.00 L298.17,249.03 L298.34,248.07 L298.53,247.13 L298.72,246.21 L298.94,245.33 L299.17,244.47 L299.43,243.66 L299.72,242.89 L300.04,242.17 L300.40,241.50 L300.70,241.02 L301.01,240.58 L301.34,240.17 L301.68,239.79 L302.04,239.43 L302.42,239.09 L302.83,238.76 L303.26,238.44 L303.71,238.12 L304.20,237.80 L304.91,237.39 L305.67,237.00 L306.49,236.63 L307.36,236.29 L308.27,235.96 L309.20,235.64 L310.16,235.33 L311.14,235.02 L312.12,234.71 L313.10,234.40 L314.27,234.04 L315.49,233.70 L316.73,233.37 L318.01,233.04 L319.30,232.72 L320.61,232.40 L321.92,232.07 L323.23,231.74 L324.52,231.38 L325.80,231.00 L327.08,230.59 L328.35,230.16 L329.61,229.71 L330.86,229.26 L332.12,228.79 L333.39,228.32 L334.67,227.85 L335.96,227.39 L337.27,226.94 L338.60,226.50 L340.08,226.05 L341.60,225.62 L343.14,225.21 L344.70,224.81 L346.27,224.40 L347.84,223.99 L349.41,223.56 L350.96,223.11 L352.50,222.62 L354.00,222.10 L355.45,221.55 L356.89,220.98 L358.32,220.39 L359.73,219.77 L361.14,219.14 L362.54,218.48 L363.93,217.81 L365.32,217.12 L366.71,216.42 L368.10,215.70 L369.52,214.94 L370.92,214.16 L372.31,213.36 L373.69,212.54 L375.07,211.70 L376.45,210.85 L377.85,209.98 L379.27,209.10 L380.72,208.20 L382.20,207.30 L383.94,206.24 L385.71,205.16 L387.52,204.04 L389.35,202.91 L391.21,201.76 L393.07,200.61 L394.94,199.45 L396.80,198.29 L398.66,197.14 L400.50,196.00" fill="none" stroke="#a02aa8" stroke-width="1.40" stroke-linejoin="round" stroke-linecap="round" />
<path d="M296.30,225.50 L296.56,226.79 L296.80,228.10 L297.03,229.43 L297.25,230.77 L297.48,232.09 L297.73,233.40 L298.00,234.67 L298.31,235.91 L298.68,237.09 L299.10,238.20 L299.50,239.09 L299.91,239.94 L300.35,240.77 L300.82,241.57 L301.31,242.34 L301.83,243.08 L302.37,243.81 L302.95,244.52 L303.56,245.22 L304.20,245.90 L304.94,246.62 L305.72,247.32 L306.54,247.98 L307.40,248.63 L308.30,249.25 L309.22,249.86 L310.16,250.46 L311.12,251.04 L312.11,251.62 L313.10,252.20 L314.23,252.84 L315.37,253.44 L316.53,254.03 L317.72,254.60 L318.94,255.16 L320.20,255.72 L321.50,256.27 L322.87,256.84 L324.30,257.41 L325.80,258.00 L328.20,258.89 L330.86,259.82 L333.72,260.76 L336.72,261.72 L339.80,262.67 L342.88,263.63 L345.90,264.56 L348.80,265.48 L351.53,266.36 L354.00,267.20 L355.61,267.76 L357.15,268.28 L358.62,268.78 L360.03,269.26 L361.40,269.74 L362.74,270.23 L364.07,270.74 L365.40,271.28 L366.74,271.86 L368.10,272.50 L369.56,273.21 L371.05,273.94 L372.54,274.71 L374.04,275.50 L375.52,276.32 L376.97,277.18 L378.37,278.07 L379.72,279.00 L381.00,279.98 L382.20,281.00 L383.23,281.99 L384.20,283.04 L385.12,284.13 L386.00,285.25 L386.83,286.41 L387.63,287.58 L388.40,288.76 L389.15,289.95 L389.88,291.13 L390.60,292.30 L391.26,293.39 L391.89,294.46 L392.50,295.54 L393.08,296.61 L393.64,297.70 L394.19,298.80 L394.73,299.92 L395.25,301.08 L395.78,302.27 L396.30,303.50 L396.91,305.03 L397.50,306.63 L398.07,308.28 L398.63,309.98 L399.18,311.71 L399.72,313.45 L400.26,315.21 L400.80,316.96 L401.35,318.69 L401.90,320.40" fill="none" stroke="#a02aa8" stroke-width="1.40" stroke-linejoin="round" stroke-linecap="round" />
<path d="M296.30,324.00 L296.31,319.57 L296.32,315.08 L296.31,310.57 L296.31,306.05 L296.31,301.54 L296.32,297.08 L296.33,292.66 L296.37,288.33 L296.42,284.11 L296.50,280.00 L296.56,276.53 L296.61,272.99 L296.65,269.44 L296.70,265.93 L296.76,262.50 L296.86,259.21 L297.00,256.10 L297.19,253.23 L297.46,250.65 L297.80,248.40 L298.00,247.40 L298.20,246.46 L298.41,245.59 L298.63,244.77 L298.86,244.00 L299.12,243.29 L299.40,242.61 L299.70,241.98 L300.03,241.37 L300.40,240.80 L300.71,240.38 L301.03,239.99 L301.36,239.64 L301.70,239.31 L302.06,239.00 L302.45,238.71 L302.85,238.43 L303.27,238.15 L303.72,237.88 L304.20,237.60 L304.91,237.22 L305.68,236.87 L306.51,236.54 L307.37,236.22 L308.28,235.91 L309.22,235.61 L310.17,235.32 L311.15,235.02 L312.12,234.71 L313.10,234.40 L314.28,234.03 L315.49,233.66 L316.74,233.30 L318.02,232.94 L319.31,232.58 L320.62,232.21 L321.93,231.83 L323.23,231.44 L324.53,231.03 L325.80,230.60 L327.08,230.15 L328.36,229.69 L329.63,229.23 L330.89,228.75 L332.16,228.27 L333.43,227.76 L334.71,227.23 L335.99,226.68 L337.29,226.10 L338.60,225.50 L340.10,224.77 L341.62,223.98 L343.16,223.15 L344.71,222.29 L346.27,221.41 L347.83,220.52 L349.39,219.63 L350.94,218.76 L352.48,217.91 L354.00,217.10 L355.43,216.36 L356.85,215.64 L358.27,214.93 L359.68,214.24 L361.08,213.55 L362.48,212.86 L363.89,212.18 L365.29,211.49 L366.69,210.80 L368.10,210.10 L369.52,209.39 L370.94,208.69 L372.36,207.98 L373.79,207.28 L375.21,206.57 L376.63,205.86 L378.04,205.15 L379.44,204.44 L380.83,203.72 L382.20,203.00 L383.49,202.31 L384.77,201.61 L386.04,200.92 L387.30,200.22 L388.55,199.51 L389.80,198.81 L391.05,198.11 L392.29,197.40 L393.54,196.70 L394.80,196.00" fill="none" stroke="#0e958f" stroke-width="1.40" stroke-linejoin="round" stroke-linecap="round" />
<path d="M296.30,230.00 L296.57,231.21 L296.83,232.45 L297.08,233.70 L297.33,234.95 L297.58,236.19 L297.84,237.42 L298.12,238.62 L298.42,239.79 L298.74,240.92 L299.10,242.00 L299.41,242.86 L299.71,243.70 L300.01,244.51 L300.33,245.29 L300.66,246.06 L301.02,246.82 L301.41,247.55 L301.85,248.28 L302.35,248.99 L302.90,249.70 L303.66,250.55 L304.52,251.38 L305.45,252.20 L306.44,253.00 L307.49,253.78 L308.58,254.53 L309.70,255.26 L310.84,255.97 L311.97,256.65 L313.10,257.30 L314.26,257.93 L315.42,258.52 L316.59,259.06 L317.77,259.57 L318.99,260.07 L320.24,260.55 L321.54,261.04 L322.89,261.53 L324.31,262.05 L325.80,262.60 L328.21,263.45 L330.87,264.34 L333.74,265.25 L336.75,266.18 L339.82,267.12 L342.90,268.07 L345.92,269.02 L348.82,269.96 L351.54,270.89 L354.00,271.80 L355.63,272.44 L357.19,273.05 L358.69,273.66 L360.13,274.26 L361.52,274.86 L362.88,275.47 L364.21,276.11 L365.51,276.77 L366.81,277.46 L368.10,278.20 L369.33,278.94 L370.55,279.72 L371.76,280.51 L372.94,281.34 L374.11,282.18 L375.24,283.04 L376.34,283.91 L377.40,284.80 L378.42,285.70 L379.40,286.60 L380.22,287.40 L381.01,288.20 L381.76,289.02 L382.48,289.83 L383.18,290.67 L383.86,291.51 L384.51,292.38 L385.15,293.26 L385.78,294.17 L386.40,295.10 L387.05,296.12 L387.68,297.17 L388.29,298.24 L388.89,299.33 L389.46,300.45 L390.02,301.58 L390.55,302.74 L391.06,303.91 L391.54,305.10 L392.00,306.30 L392.46,307.62 L392.87,308.98 L393.24,310.37 L393.59,311.79 L393.91,313.22 L394.23,314.66 L394.53,316.10 L394.84,317.55 L395.16,318.98 L395.50,320.40" fill="none" stroke="#0e958f" stroke-width="1.40" stroke-linejoin="round" stroke-linecap="round" />
<rect x="296.00" y="186.50" width="186.50" height="139.00" fill="none" stroke="#1e1e1e" stroke-width="1.10"/>
<line x1="296.00" y1="316.23" x2="293.40" y2="316.23" stroke="#1e1e1e" stroke-width="1.1"/>
<text x="290.70" y="319.18" font-size="9.00" text-anchor="end" fill="#222" stroke="#222" stroke-width="0.12" >1.6</text>
<line x1="296.00" y1="297.70" x2="293.40" y2="297.70" stroke="#1e1e1e" stroke-width="1.1"/>
<text x="290.70" y="300.65" font-size="9.00" text-anchor="end" fill="#222" stroke="#222" stroke-width="0.12" >2.0</text>
<line x1="296.00" y1="279.17" x2="293.40" y2="279.17" stroke="#1e1e1e" stroke-width="1.1"/>
<text x="290.70" y="282.12" font-size="9.00" text-anchor="end" fill="#222" stroke="#222" stroke-width="0.12" >2.4</text>
<line x1="296.00" y1="260.63" x2="293.40" y2="260.63" stroke="#1e1e1e" stroke-width="1.1"/>
<text x="290.70" y="263.58" font-size="9.00" text-anchor="end" fill="#222" stroke="#222" stroke-width="0.12" >2.8</text>
<line x1="296.00" y1="242.10" x2="293.40" y2="242.10" stroke="#1e1e1e" stroke-width="1.1"/>
<text x="290.70" y="245.05" font-size="9.00" text-anchor="end" fill="#222" stroke="#222" stroke-width="0.12" >3.2</text>
<line x1="296.00" y1="223.57" x2="293.40" y2="223.57" stroke="#1e1e1e" stroke-width="1.1"/>
<text x="290.70" y="226.52" font-size="9.00" text-anchor="end" fill="#222" stroke="#222" stroke-width="0.12" >3.6</text>
<line x1="296.00" y1="205.03" x2="293.40" y2="205.03" stroke="#1e1e1e" stroke-width="1.1"/>
<text x="290.70" y="207.98" font-size="9.00" text-anchor="end" fill="#222" stroke="#222" stroke-width="0.12" >4.0</text>
<line x1="296.00" y1="186.50" x2="293.40" y2="186.50" stroke="#1e1e1e" stroke-width="1.1"/>
<text x="290.70" y="189.45" font-size="9.00" text-anchor="end" fill="#222" stroke="#222" stroke-width="0.12" >4.4</text>
<line x1="296.00" y1="306.97" x2="294.40" y2="306.97" stroke="#1e1e1e" stroke-width="1"/>
<line x1="296.00" y1="288.43" x2="294.40" y2="288.43" stroke="#1e1e1e" stroke-width="1"/>
<line x1="296.00" y1="269.90" x2="294.40" y2="269.90" stroke="#1e1e1e" stroke-width="1"/>
<line x1="296.00" y1="251.37" x2="294.40" y2="251.37" stroke="#1e1e1e" stroke-width="1"/>
<line x1="296.00" y1="232.83" x2="294.40" y2="232.83" stroke="#1e1e1e" stroke-width="1"/>
<line x1="296.00" y1="214.30" x2="294.40" y2="214.30" stroke="#1e1e1e" stroke-width="1"/>
<line x1="296.00" y1="195.77" x2="294.40" y2="195.77" stroke="#1e1e1e" stroke-width="1"/>
<line x1="296.00" y1="325.50" x2="296.00" y2="327.70" stroke="#1e1e1e" stroke-width="1.1"/>
<text x="296.00" y="336.50" font-size="9.00" text-anchor="middle" fill="#111" stroke="#111" stroke-width="0.12" >0</text>
<line x1="333.30" y1="325.50" x2="333.30" y2="327.70" stroke="#1e1e1e" stroke-width="1.1"/>
<text x="333.30" y="336.50" font-size="9.00" text-anchor="middle" fill="#111" stroke="#111" stroke-width="0.12" >100</text>
<line x1="370.60" y1="325.50" x2="370.60" y2="327.70" stroke="#1e1e1e" stroke-width="1.1"/>
<text x="370.60" y="336.50" font-size="9.00" text-anchor="middle" fill="#111" stroke="#111" stroke-width="0.12" >200</text>
<line x1="407.90" y1="325.50" x2="407.90" y2="327.70" stroke="#1e1e1e" stroke-width="1.1"/>
<text x="407.90" y="336.50" font-size="9.00" text-anchor="middle" fill="#111" stroke="#111" stroke-width="0.12" >300</text>
<line x1="445.20" y1="325.50" x2="445.20" y2="327.70" stroke="#1e1e1e" stroke-width="1.1"/>
<text x="445.20" y="336.50" font-size="9.00" text-anchor="middle" fill="#111" stroke="#111" stroke-width="0.12" >400</text>
<line x1="482.50" y1="325.50" x2="482.50" y2="327.70" stroke="#1e1e1e" stroke-width="1.1"/>
<text x="482.50" y="336.50" font-size="9.00" text-anchor="middle" fill="#111" stroke="#111" stroke-width="0.12" >500</text>
<line x1="314.65" y1="325.50" x2="314.65" y2="327.00" stroke="#1e1e1e" stroke-width="1"/>
<line x1="351.95" y1="325.50" x2="351.95" y2="327.00" stroke="#1e1e1e" stroke-width="1"/>
<line x1="389.25" y1="325.50" x2="389.25" y2="327.00" stroke="#1e1e1e" stroke-width="1"/>
<line x1="426.55" y1="325.50" x2="426.55" y2="327.00" stroke="#1e1e1e" stroke-width="1"/>
<line x1="463.85" y1="325.50" x2="463.85" y2="327.00" stroke="#1e1e1e" stroke-width="1"/>
<text x="308.10" y="199.30" font-size="9.00" text-anchor="start" fill="#111" stroke="#111" stroke-width="0.12" >16 ALD</text>
<line x1="422.20" y1="195.10" x2="441.70" y2="195.10" stroke="#262626" stroke-width="1.3"/>
<text x="444.70" y="198.30" font-size="9.00" text-anchor="start" fill="#111" stroke="#111" stroke-width="0.12" >1st D</text>
<line x1="422.20" y1="206.20" x2="441.70" y2="206.20" stroke="#ff2b2b" stroke-width="1.3"/>
<text x="444.70" y="209.40" font-size="9.00" text-anchor="start" fill="#111" stroke="#111" stroke-width="0.12" >2nd C/D</text>
<line x1="422.20" y1="217.30" x2="441.70" y2="217.30" stroke="#a02aa8" stroke-width="1.3"/>
<text x="444.70" y="220.50" font-size="9.00" text-anchor="start" fill="#111" stroke="#111" stroke-width="0.12" >5th C/D</text>
<line x1="422.20" y1="228.40" x2="441.70" y2="228.40" stroke="#0e958f" stroke-width="1.3"/>
<text x="444.70" y="231.60" font-size="9.00" text-anchor="start" fill="#111" stroke="#111" stroke-width="0.12" >10th C/D</text>
<text x="393.15" y="356.20" font-size="12.30" text-anchor="middle" fill="#111" stroke="#111" stroke-width="0.12" >Capacity(mAh g<tspan font-size="8" dy="-4.5">&#8722;1</tspan><tspan dy="4.5">)</tspan></text>
<text transform="translate(267.00,256.00) rotate(-90)" font-size="12" text-anchor="middle" fill="#111" stroke="#111" stroke-width="0.2">Voltage(V)</text>
<text x="253.00" y="199.80" font-size="16.00" text-anchor="start" fill="#111" stroke="#111" stroke-width="0.00" >(d)</text>
<g fill="none" stroke="#777" stroke-width="0.7"><circle cx="52.96" cy="398.58" r="1.50"/><circle cx="54.34" cy="399.07" r="1.50"/><circle cx="55.73" cy="398.79" r="1.50"/><circle cx="57.11" cy="399.17" r="1.50"/><circle cx="58.49" cy="399.20" r="1.50"/><circle cx="59.87" cy="398.30" r="1.50"/><circle cx="61.25" cy="398.22" r="1.50"/><circle cx="62.63" cy="399.53" r="1.50"/><circle cx="64.02" cy="398.60" r="1.50"/><circle cx="65.40" cy="398.55" r="1.50"/><circle cx="66.78" cy="399.77" r="1.50"/><circle cx="68.16" cy="398.92" r="1.50"/><circle cx="69.54" cy="399.50" r="1.50"/><circle cx="70.92" cy="398.92" r="1.50"/><circle cx="72.31" cy="399.18" r="1.50"/><circle cx="73.69" cy="398.39" r="1.50"/><circle cx="75.07" cy="399.16" r="1.50"/><circle cx="76.45" cy="399.53" r="1.50"/><circle cx="77.83" cy="398.97" r="1.50"/><circle cx="79.21" cy="399.31" r="1.50"/><circle cx="80.60" cy="399.20" r="1.50"/><circle cx="81.98" cy="398.22" r="1.50"/><circle cx="83.36" cy="399.32" r="1.50"/><circle cx="84.74" cy="399.05" r="1.50"/><circle cx="86.12" cy="398.58" r="1.50"/><circle cx="87.50" cy="398.14" r="1.50"/><circle cx="88.88" cy="399.47" r="1.50"/><circle cx="90.27" cy="398.84" r="1.50"/><circle cx="91.65" cy="399.23" r="1.50"/><circle cx="93.03" cy="399.48" r="1.50"/><circle cx="94.41" cy="399.21" r="1.50"/><circle cx="95.79" cy="399.54" r="1.50"/><circle cx="97.17" cy="398.69" r="1.50"/><circle cx="98.56" cy="399.33" r="1.50"/><circle cx="99.94" cy="398.76" r="1.50"/><circle cx="101.32" cy="399.54" r="1.50"/><circle cx="102.70" cy="399.44" r="1.50"/><circle cx="104.08" cy="398.19" r="1.50"/><circle cx="105.46" cy="398.24" r="1.50"/><circle cx="106.85" cy="398.37" r="1.50"/><circle cx="108.23" cy="399.56" r="1.50"/><circle cx="109.61" cy="398.71" r="1.50"/><circle cx="110.99" cy="399.01" r="1.50"/><circle cx="112.37" cy="398.48" r="1.50"/><circle cx="113.75" cy="398.80" r="1.50"/><circle cx="115.14" cy="398.61" r="1.50"/><circle cx="116.52" cy="398.54" r="1.50"/><circle cx="117.90" cy="398.91" r="1.50"/><circle cx="119.28" cy="398.91" r="1.50"/><circle cx="120.66" cy="399.41" r="1.50"/><circle cx="122.04" cy="399.05" r="1.50"/><circle cx="123.42" cy="399.44" r="1.50"/><circle cx="124.81" cy="399.32" r="1.50"/><circle cx="126.19" cy="399.53" r="1.50"/><circle cx="127.57" cy="399.01" r="1.50"/><circle cx="128.95" cy="398.20" r="1.50"/><circle cx="130.33" cy="399.31" r="1.50"/><circle cx="131.71" cy="399.47" r="1.50"/><circle cx="133.10" cy="399.37" r="1.50"/><circle cx="134.48" cy="398.82" r="1.50"/><circle cx="135.86" cy="399.05" r="1.50"/><circle cx="137.24" cy="398.24" r="1.50"/><circle cx="138.62" cy="399.23" r="1.50"/><circle cx="140.00" cy="398.81" r="1.50"/><circle cx="141.39" cy="398.34" r="1.50"/><circle cx="142.77" cy="397.98" r="1.50"/><circle cx="144.15" cy="399.24" r="1.50"/><circle cx="145.53" cy="399.45" r="1.50"/><circle cx="146.91" cy="398.01" r="1.50"/><circle cx="148.29" cy="399.14" r="1.50"/><circle cx="149.68" cy="398.51" r="1.50"/><circle cx="151.06" cy="398.09" r="1.50"/><circle cx="152.44" cy="398.31" r="1.50"/><circle cx="153.82" cy="399.07" r="1.50"/><circle cx="155.20" cy="399.23" r="1.50"/><circle cx="156.58" cy="397.90" r="1.50"/><circle cx="157.96" cy="398.81" r="1.50"/><circle cx="159.35" cy="397.89" r="1.50"/><circle cx="160.73" cy="398.96" r="1.50"/><circle cx="162.11" cy="398.34" r="1.50"/><circle cx="163.49" cy="399.21" r="1.50"/><circle cx="164.87" cy="399.37" r="1.50"/><circle cx="166.25" cy="398.60" r="1.50"/><circle cx="167.64" cy="399.38" r="1.50"/><circle cx="169.02" cy="398.28" r="1.50"/><circle cx="170.40" cy="397.90" r="1.50"/><circle cx="171.78" cy="398.73" r="1.50"/><circle cx="173.16" cy="397.81" r="1.50"/><circle cx="174.54" cy="398.08" r="1.50"/><circle cx="175.93" cy="398.41" r="1.50"/><circle cx="177.31" cy="398.73" r="1.50"/><circle cx="178.69" cy="397.99" r="1.50"/><circle cx="180.07" cy="397.81" r="1.50"/><circle cx="181.45" cy="399.12" r="1.50"/><circle cx="182.83" cy="398.23" r="1.50"/><circle cx="184.22" cy="399.26" r="1.50"/><circle cx="185.60" cy="399.15" r="1.50"/><circle cx="186.98" cy="398.32" r="1.50"/><circle cx="188.36" cy="398.44" r="1.50"/></g>
<g fill="none" stroke="#ff6a6a" stroke-width="0.7"><circle cx="52.96" cy="400.55" r="1.50"/><circle cx="54.34" cy="400.85" r="1.50"/><circle cx="55.73" cy="400.73" r="1.50"/><circle cx="57.11" cy="400.64" r="1.50"/><circle cx="58.49" cy="400.79" r="1.50"/><circle cx="59.87" cy="401.56" r="1.50"/><circle cx="61.25" cy="400.52" r="1.50"/><circle cx="62.63" cy="400.33" r="1.50"/><circle cx="64.02" cy="401.03" r="1.50"/><circle cx="65.40" cy="399.87" r="1.50"/><circle cx="66.78" cy="400.02" r="1.50"/><circle cx="68.16" cy="401.65" r="1.50"/><circle cx="69.54" cy="400.55" r="1.50"/><circle cx="70.92" cy="400.62" r="1.50"/><circle cx="72.31" cy="399.33" r="1.50"/><circle cx="73.69" cy="400.30" r="1.50"/><circle cx="75.07" cy="400.69" r="1.50"/><circle cx="76.45" cy="399.20" r="1.50"/><circle cx="77.83" cy="400.49" r="1.50"/><circle cx="79.21" cy="400.40" r="1.50"/><circle cx="80.60" cy="398.88" r="1.50"/><circle cx="81.98" cy="400.11" r="1.50"/><circle cx="83.36" cy="399.58" r="1.50"/><circle cx="84.74" cy="399.96" r="1.50"/><circle cx="86.12" cy="399.03" r="1.50"/><circle cx="87.50" cy="399.75" r="1.50"/><circle cx="88.88" cy="399.68" r="1.50"/><circle cx="90.27" cy="397.85" r="1.50"/><circle cx="91.65" cy="397.90" r="1.50"/><circle cx="93.03" cy="399.35" r="1.50"/><circle cx="94.41" cy="400.00" r="1.50"/><circle cx="95.79" cy="398.26" r="1.50"/><circle cx="97.17" cy="398.72" r="1.50"/><circle cx="98.56" cy="399.01" r="1.50"/><circle cx="99.94" cy="398.32" r="1.50"/><circle cx="101.32" cy="398.39" r="1.50"/><circle cx="102.70" cy="398.23" r="1.50"/><circle cx="104.08" cy="398.33" r="1.50"/><circle cx="105.46" cy="398.84" r="1.50"/><circle cx="106.85" cy="398.10" r="1.50"/><circle cx="108.23" cy="398.25" r="1.50"/><circle cx="109.61" cy="399.16" r="1.50"/><circle cx="110.99" cy="397.36" r="1.50"/><circle cx="112.37" cy="398.65" r="1.50"/><circle cx="113.75" cy="399.04" r="1.50"/><circle cx="115.14" cy="398.01" r="1.50"/><circle cx="116.52" cy="397.79" r="1.50"/><circle cx="117.90" cy="399.18" r="1.50"/><circle cx="119.28" cy="397.81" r="1.50"/><circle cx="120.66" cy="397.68" r="1.50"/><circle cx="122.04" cy="398.27" r="1.50"/><circle cx="123.42" cy="398.89" r="1.50"/><circle cx="124.81" cy="397.45" r="1.50"/><circle cx="126.19" cy="397.97" r="1.50"/><circle cx="127.57" cy="397.99" r="1.50"/><circle cx="128.95" cy="399.18" r="1.50"/><circle cx="130.33" cy="398.23" r="1.50"/><circle cx="131.71" cy="399.22" r="1.50"/><circle cx="133.10" cy="397.56" r="1.50"/><circle cx="134.48" cy="397.96" r="1.50"/><circle cx="135.86" cy="398.70" r="1.50"/><circle cx="137.24" cy="399.25" r="1.50"/><circle cx="138.62" cy="398.20" r="1.50"/><circle cx="140.00" cy="397.65" r="1.50"/><circle cx="141.39" cy="397.39" r="1.50"/><circle cx="142.77" cy="398.37" r="1.50"/><circle cx="144.15" cy="397.54" r="1.50"/><circle cx="145.53" cy="399.01" r="1.50"/><circle cx="146.91" cy="399.08" r="1.50"/><circle cx="148.29" cy="397.50" r="1.50"/><circle cx="149.68" cy="397.72" r="1.50"/><circle cx="151.06" cy="398.98" r="1.50"/><circle cx="152.44" cy="398.58" r="1.50"/><circle cx="153.82" cy="398.96" r="1.50"/><circle cx="155.20" cy="397.85" r="1.50"/><circle cx="156.58" cy="397.32" r="1.50"/><circle cx="157.96" cy="397.70" r="1.50"/><circle cx="159.35" cy="398.90" r="1.50"/><circle cx="160.73" cy="397.63" r="1.50"/><circle cx="162.11" cy="397.81" r="1.50"/><circle cx="163.49" cy="397.97" r="1.50"/><circle cx="164.87" cy="397.96" r="1.50"/><circle cx="166.25" cy="397.93" r="1.50"/><circle cx="167.64" cy="399.15" r="1.50"/><circle cx="169.02" cy="397.31" r="1.50"/><circle cx="170.40" cy="396.93" r="1.50"/><circle cx="171.78" cy="399.18" r="1.50"/><circle cx="173.16" cy="399.02" r="1.50"/><circle cx="174.54" cy="399.27" r="1.50"/><circle cx="175.93" cy="397.93" r="1.50"/><circle cx="177.31" cy="399.16" r="1.50"/><circle cx="178.69" cy="399.10" r="1.50"/><circle cx="180.07" cy="397.40" r="1.50"/><circle cx="181.45" cy="398.64" r="1.50"/><circle cx="182.83" cy="398.85" r="1.50"/><circle cx="184.22" cy="398.43" r="1.50"/><circle cx="185.60" cy="398.07" r="1.50"/><circle cx="186.98" cy="397.51" r="1.50"/><circle cx="188.36" cy="397.63" r="1.50"/></g>
<g fill="#a020b0"><circle cx="52.96" cy="397.08" r="1.30"/><circle cx="54.34" cy="396.95" r="1.30"/><circle cx="55.73" cy="397.37" r="1.30"/><circle cx="57.11" cy="397.13" r="1.30"/><circle cx="58.49" cy="397.55" r="1.30"/><circle cx="59.87" cy="396.94" r="1.30"/><circle cx="61.25" cy="397.62" r="1.30"/><circle cx="62.63" cy="397.45" r="1.30"/><circle cx="64.02" cy="397.64" r="1.30"/><circle cx="65.40" cy="397.62" r="1.30"/><circle cx="66.78" cy="397.62" r="1.30"/><circle cx="68.16" cy="397.36" r="1.30"/><circle cx="69.54" cy="396.91" r="1.30"/><circle cx="70.92" cy="397.50" r="1.30"/><circle cx="72.31" cy="397.04" r="1.30"/><circle cx="73.69" cy="397.14" r="1.30"/><circle cx="75.07" cy="397.43" r="1.30"/><circle cx="76.45" cy="397.32" r="1.30"/><circle cx="77.83" cy="397.23" r="1.30"/><circle cx="79.21" cy="397.65" r="1.30"/><circle cx="80.60" cy="397.39" r="1.30"/><circle cx="81.98" cy="397.17" r="1.30"/><circle cx="83.36" cy="397.10" r="1.30"/><circle cx="84.74" cy="397.59" r="1.30"/><circle cx="86.12" cy="397.28" r="1.30"/><circle cx="87.50" cy="397.53" r="1.30"/><circle cx="88.88" cy="397.18" r="1.30"/><circle cx="90.27" cy="397.06" r="1.30"/><circle cx="91.65" cy="397.33" r="1.30"/><circle cx="93.03" cy="397.55" r="1.30"/><circle cx="94.41" cy="397.04" r="1.30"/><circle cx="95.79" cy="397.53" r="1.30"/><circle cx="97.17" cy="397.64" r="1.30"/><circle cx="98.56" cy="397.54" r="1.30"/><circle cx="99.94" cy="397.56" r="1.30"/><circle cx="101.32" cy="396.91" r="1.30"/><circle cx="102.70" cy="397.40" r="1.30"/><circle cx="104.08" cy="397.59" r="1.30"/><circle cx="105.46" cy="396.94" r="1.30"/><circle cx="106.85" cy="397.12" r="1.30"/><circle cx="108.23" cy="397.11" r="1.30"/><circle cx="109.61" cy="397.32" r="1.30"/><circle cx="110.99" cy="397.24" r="1.30"/><circle cx="112.37" cy="397.28" r="1.30"/><circle cx="113.75" cy="397.52" r="1.30"/><circle cx="115.14" cy="396.90" r="1.30"/><circle cx="116.52" cy="396.94" r="1.30"/><circle cx="117.90" cy="397.00" r="1.30"/><circle cx="119.28" cy="397.00" r="1.30"/><circle cx="120.66" cy="396.95" r="1.30"/><circle cx="122.04" cy="397.68" r="1.30"/><circle cx="123.42" cy="397.58" r="1.30"/><circle cx="124.81" cy="396.97" r="1.30"/><circle cx="126.19" cy="397.30" r="1.30"/><circle cx="127.57" cy="397.15" r="1.30"/><circle cx="128.95" cy="397.15" r="1.30"/><circle cx="130.33" cy="397.18" r="1.30"/><circle cx="131.71" cy="397.42" r="1.30"/><circle cx="133.10" cy="397.37" r="1.30"/><circle cx="134.48" cy="397.19" r="1.30"/><circle cx="135.86" cy="397.05" r="1.30"/><circle cx="137.24" cy="397.16" r="1.30"/><circle cx="138.62" cy="397.00" r="1.30"/><circle cx="140.00" cy="397.34" r="1.30"/><circle cx="141.39" cy="397.47" r="1.30"/><circle cx="142.77" cy="397.20" r="1.30"/><circle cx="144.15" cy="396.96" r="1.30"/><circle cx="145.53" cy="397.04" r="1.30"/><circle cx="146.91" cy="397.20" r="1.30"/><circle cx="148.29" cy="397.38" r="1.30"/><circle cx="149.68" cy="397.53" r="1.30"/><circle cx="151.06" cy="397.20" r="1.30"/><circle cx="152.44" cy="397.54" r="1.30"/><circle cx="153.82" cy="397.40" r="1.30"/><circle cx="155.20" cy="397.25" r="1.30"/><circle cx="156.58" cy="397.20" r="1.30"/><circle cx="157.96" cy="397.30" r="1.30"/><circle cx="159.35" cy="397.46" r="1.30"/><circle cx="160.73" cy="397.24" r="1.30"/><circle cx="162.11" cy="397.46" r="1.30"/><circle cx="163.49" cy="397.27" r="1.30"/><circle cx="164.87" cy="397.10" r="1.30"/><circle cx="166.25" cy="397.33" r="1.30"/><circle cx="167.64" cy="397.46" r="1.30"/><circle cx="169.02" cy="396.96" r="1.30"/><circle cx="170.40" cy="397.24" r="1.30"/><circle cx="171.78" cy="397.24" r="1.30"/><circle cx="173.16" cy="397.60" r="1.30"/><circle cx="174.54" cy="397.65" r="1.30"/><circle cx="175.93" cy="397.20" r="1.30"/><circle cx="177.31" cy="397.62" r="1.30"/><circle cx="178.69" cy="397.53" r="1.30"/><circle cx="180.07" cy="397.11" r="1.30"/><circle cx="181.45" cy="397.27" r="1.30"/><circle cx="182.83" cy="397.00" r="1.30"/><circle cx="184.22" cy="397.55" r="1.30"/><circle cx="185.60" cy="397.43" r="1.30"/><circle cx="186.98" cy="397.61" r="1.30"/><circle cx="188.36" cy="397.53" r="1.30"/><circle cx="189.74" cy="397.43" r="1.30"/><circle cx="191.12" cy="397.49" r="1.30"/><circle cx="192.50" cy="397.35" r="1.30"/><circle cx="193.89" cy="396.98" r="1.30"/><circle cx="195.27" cy="397.37" r="1.30"/><circle cx="196.65" cy="396.90" r="1.30"/><circle cx="198.03" cy="397.01" r="1.30"/><circle cx="199.41" cy="397.52" r="1.30"/><circle cx="200.79" cy="396.94" r="1.30"/><circle cx="202.18" cy="396.97" r="1.30"/><circle cx="203.56" cy="396.98" r="1.30"/><circle cx="204.94" cy="397.60" r="1.30"/><circle cx="206.32" cy="397.04" r="1.30"/><circle cx="207.70" cy="396.92" r="1.30"/><circle cx="209.08" cy="397.57" r="1.30"/><circle cx="210.47" cy="397.00" r="1.30"/><circle cx="211.85" cy="397.58" r="1.30"/><circle cx="213.23" cy="397.44" r="1.30"/><circle cx="214.61" cy="397.57" r="1.30"/><circle cx="215.99" cy="397.66" r="1.30"/><circle cx="217.37" cy="397.36" r="1.30"/><circle cx="218.76" cy="397.54" r="1.30"/><circle cx="220.14" cy="396.93" r="1.30"/><circle cx="221.52" cy="397.51" r="1.30"/><circle cx="222.90" cy="397.31" r="1.30"/></g>
<g fill="none" stroke="#5cc8c8" stroke-width="0.7"><circle cx="52.96" cy="396.66" r="1.50"/><circle cx="54.34" cy="395.93" r="1.50"/><circle cx="55.73" cy="396.70" r="1.50"/><circle cx="57.11" cy="396.92" r="1.50"/><circle cx="58.49" cy="395.87" r="1.50"/><circle cx="59.87" cy="396.19" r="1.50"/><circle cx="61.25" cy="396.48" r="1.50"/><circle cx="62.63" cy="396.79" r="1.50"/><circle cx="64.02" cy="396.09" r="1.50"/><circle cx="65.40" cy="396.02" r="1.50"/><circle cx="66.78" cy="396.10" r="1.50"/><circle cx="68.16" cy="396.54" r="1.50"/><circle cx="69.54" cy="396.70" r="1.50"/><circle cx="70.92" cy="396.27" r="1.50"/><circle cx="72.31" cy="396.24" r="1.50"/><circle cx="73.69" cy="396.28" r="1.50"/><circle cx="75.07" cy="396.22" r="1.50"/><circle cx="76.45" cy="396.30" r="1.50"/><circle cx="77.83" cy="395.90" r="1.50"/><circle cx="79.21" cy="396.40" r="1.50"/><circle cx="80.60" cy="396.97" r="1.50"/><circle cx="81.98" cy="396.30" r="1.50"/><circle cx="83.36" cy="396.70" r="1.50"/><circle cx="84.74" cy="395.99" r="1.50"/><circle cx="86.12" cy="396.63" r="1.50"/><circle cx="87.50" cy="396.71" r="1.50"/><circle cx="88.88" cy="396.61" r="1.50"/><circle cx="90.27" cy="396.42" r="1.50"/><circle cx="91.65" cy="396.38" r="1.50"/><circle cx="93.03" cy="396.57" r="1.50"/><circle cx="94.41" cy="396.88" r="1.50"/><circle cx="95.79" cy="395.98" r="1.50"/><circle cx="97.17" cy="395.92" r="1.50"/><circle cx="98.56" cy="396.70" r="1.50"/><circle cx="99.94" cy="396.90" r="1.50"/><circle cx="101.32" cy="396.42" r="1.50"/><circle cx="102.70" cy="396.33" r="1.50"/><circle cx="104.08" cy="396.66" r="1.50"/><circle cx="105.46" cy="396.02" r="1.50"/><circle cx="106.85" cy="396.12" r="1.50"/><circle cx="108.23" cy="396.04" r="1.50"/><circle cx="109.61" cy="396.50" r="1.50"/><circle cx="110.99" cy="396.18" r="1.50"/><circle cx="112.37" cy="396.08" r="1.50"/><circle cx="113.75" cy="396.63" r="1.50"/><circle cx="115.14" cy="396.94" r="1.50"/><circle cx="116.52" cy="396.16" r="1.50"/><circle cx="117.90" cy="396.65" r="1.50"/><circle cx="119.28" cy="396.30" r="1.50"/><circle cx="120.66" cy="396.82" r="1.50"/><circle cx="122.04" cy="396.50" r="1.50"/><circle cx="123.42" cy="396.12" r="1.50"/><circle cx="124.81" cy="396.06" r="1.50"/><circle cx="126.19" cy="395.83" r="1.50"/><circle cx="127.57" cy="396.38" r="1.50"/><circle cx="128.95" cy="396.26" r="1.50"/><circle cx="130.33" cy="396.01" r="1.50"/><circle cx="131.71" cy="396.23" r="1.50"/><circle cx="133.10" cy="396.19" r="1.50"/><circle cx="134.48" cy="396.73" r="1.50"/><circle cx="135.86" cy="395.97" r="1.50"/><circle cx="137.24" cy="396.99" r="1.50"/><circle cx="138.62" cy="396.38" r="1.50"/><circle cx="140.00" cy="396.52" r="1.50"/><circle cx="141.39" cy="396.36" r="1.50"/><circle cx="142.77" cy="396.80" r="1.50"/><circle cx="144.15" cy="396.79" r="1.50"/><circle cx="145.53" cy="396.47" r="1.50"/><circle cx="146.91" cy="396.38" r="1.50"/><circle cx="148.29" cy="396.66" r="1.50"/><circle cx="149.68" cy="396.83" r="1.50"/><circle cx="151.06" cy="396.28" r="1.50"/><circle cx="152.44" cy="396.68" r="1.50"/><circle cx="153.82" cy="396.95" r="1.50"/><circle cx="155.20" cy="396.36" r="1.50"/><circle cx="156.58" cy="396.08" r="1.50"/><circle cx="157.96" cy="396.08" r="1.50"/><circle cx="159.35" cy="396.66" r="1.50"/><circle cx="160.73" cy="396.61" r="1.50"/><circle cx="162.11" cy="396.95" r="1.50"/><circle cx="163.49" cy="396.82" r="1.50"/><circle cx="164.87" cy="396.09" r="1.50"/><circle cx="166.25" cy="396.03" r="1.50"/><circle cx="167.64" cy="396.11" r="1.50"/><circle cx="169.02" cy="396.02" r="1.50"/><circle cx="170.40" cy="396.65" r="1.50"/><circle cx="171.78" cy="396.83" r="1.50"/><circle cx="173.16" cy="396.88" r="1.50"/><circle cx="174.54" cy="396.11" r="1.50"/><circle cx="175.93" cy="396.84" r="1.50"/><circle cx="177.31" cy="396.18" r="1.50"/><circle cx="178.69" cy="396.31" r="1.50"/><circle cx="180.07" cy="396.67" r="1.50"/><circle cx="181.45" cy="395.90" r="1.50"/><circle cx="182.83" cy="395.91" r="1.50"/><circle cx="184.22" cy="396.80" r="1.50"/><circle cx="185.60" cy="396.15" r="1.50"/><circle cx="186.98" cy="396.23" r="1.50"/><circle cx="188.36" cy="396.50" r="1.50"/><circle cx="189.74" cy="396.61" r="1.50"/><circle cx="191.12" cy="395.81" r="1.50"/><circle cx="192.50" cy="396.20" r="1.50"/><circle cx="193.89" cy="396.32" r="1.50"/><circle cx="195.27" cy="396.38" r="1.50"/><circle cx="196.65" cy="396.05" r="1.50"/><circle cx="198.03" cy="396.50" r="1.50"/><circle cx="199.41" cy="396.95" r="1.50"/><circle cx="200.79" cy="396.27" r="1.50"/><circle cx="202.18" cy="396.45" r="1.50"/><circle cx="203.56" cy="395.94" r="1.50"/><circle cx="204.94" cy="396.13" r="1.50"/><circle cx="206.32" cy="396.60" r="1.50"/><circle cx="207.70" cy="395.94" r="1.50"/><circle cx="209.08" cy="396.86" r="1.50"/><circle cx="210.47" cy="396.89" r="1.50"/><circle cx="211.85" cy="395.92" r="1.50"/><circle cx="213.23" cy="396.93" r="1.50"/><circle cx="214.61" cy="396.25" r="1.50"/><circle cx="215.99" cy="396.73" r="1.50"/><circle cx="217.37" cy="396.71" r="1.50"/><circle cx="218.76" cy="396.15" r="1.50"/><circle cx="220.14" cy="396.61" r="1.50"/><circle cx="221.52" cy="396.58" r="1.50"/><circle cx="222.90" cy="396.77" r="1.50"/></g>
<g fill="none" stroke="#666" stroke-width="0.7"><circle cx="56.10" cy="406.20" r="1.6"/><circle cx="73.20" cy="404.10" r="1.6"/><circle cx="76.20" cy="413.20" r="1.6"/><circle cx="79.20" cy="411.20" r="1.6"/><circle cx="80.20" cy="406.20" r="1.6"/><circle cx="85.20" cy="406.20" r="1.6"/><circle cx="90.30" cy="405.20" r="1.6"/><circle cx="94.30" cy="404.10" r="1.6"/><circle cx="97.30" cy="404.10" r="1.6"/><circle cx="103.40" cy="389.10" r="1.6"/><circle cx="105.40" cy="404.10" r="1.6"/><circle cx="107.40" cy="407.20" r="1.6"/><circle cx="111.40" cy="392.10" r="1.6"/><circle cx="113.40" cy="404.10" r="1.6"/><circle cx="119.40" cy="391.10" r="1.6"/><circle cx="99.30" cy="424.30" r="1.6"/><circle cx="101.30" cy="426.30" r="1.6"/><circle cx="109.40" cy="433.30" r="1.6"/><circle cx="114.40" cy="426.30" r="1.6"/><circle cx="115.40" cy="433.30" r="1.6"/><circle cx="117.40" cy="432.30" r="1.6"/><circle cx="134.50" cy="416.20" r="1.6"/><circle cx="121.50" cy="400.10" r="1.6"/><circle cx="125.50" cy="402.10" r="1.6"/><circle cx="150.00" cy="407.20" r="1.6"/><circle cx="148.10" cy="411.70" r="1.6"/><circle cx="158.10" cy="402.60" r="1.6"/><circle cx="162.60" cy="405.40" r="1.6"/><circle cx="160.80" cy="413.50" r="1.6"/><circle cx="166.30" cy="414.40" r="1.6"/><circle cx="177.10" cy="402.60" r="1.6"/><circle cx="181.70" cy="401.70" r="1.6"/><circle cx="168.10" cy="392.70" r="1.6"/><circle cx="187.10" cy="392.70" r="1.6"/><circle cx="144.50" cy="401.70" r="1.6"/></g>
<circle cx="51.4" cy="418.7" r="1.5" fill="#222"/><circle cx="51.4" cy="403.7" r="1.5" fill="#f22"/><circle cx="51.4" cy="409.5" r="1.5" fill="#129c9c"/><circle cx="51.4" cy="399" r="1.5" fill="#a020b0"/>
<g fill="#a020b0"><circle cx="52.96" cy="436.86" r="1.50"/><circle cx="54.34" cy="439.71" r="1.50"/><circle cx="55.73" cy="442.83" r="1.50"/><circle cx="57.11" cy="444.14" r="1.50"/><circle cx="58.49" cy="444.99" r="1.50"/><circle cx="59.87" cy="444.35" r="1.50"/><circle cx="61.25" cy="444.67" r="1.50"/><circle cx="62.63" cy="444.36" r="1.50"/><circle cx="64.02" cy="444.66" r="1.50"/><circle cx="65.40" cy="444.47" r="1.50"/><circle cx="66.78" cy="444.20" r="1.50"/><circle cx="68.16" cy="443.57" r="1.50"/><circle cx="69.54" cy="443.71" r="1.50"/><circle cx="70.92" cy="443.28" r="1.50"/><circle cx="72.31" cy="442.32" r="1.50"/><circle cx="73.69" cy="442.76" r="1.50"/><circle cx="75.07" cy="442.07" r="1.50"/><circle cx="76.45" cy="441.01" r="1.50"/><circle cx="77.83" cy="441.57" r="1.50"/><circle cx="79.21" cy="440.30" r="1.50"/><circle cx="80.60" cy="440.22" r="1.50"/><circle cx="81.98" cy="440.38" r="1.50"/><circle cx="83.36" cy="439.93" r="1.50"/><circle cx="84.74" cy="439.57" r="1.50"/><circle cx="86.12" cy="439.38" r="1.50"/><circle cx="87.50" cy="438.85" r="1.50"/><circle cx="88.88" cy="438.37" r="1.50"/><circle cx="90.27" cy="438.11" r="1.50"/><circle cx="91.65" cy="437.98" r="1.50"/><circle cx="93.03" cy="438.76" r="1.50"/><circle cx="94.41" cy="438.81" r="1.50"/><circle cx="95.79" cy="438.55" r="1.50"/><circle cx="97.17" cy="438.79" r="1.50"/><circle cx="98.56" cy="438.33" r="1.50"/><circle cx="99.94" cy="438.22" r="1.50"/><circle cx="101.32" cy="438.36" r="1.50"/><circle cx="102.70" cy="438.95" r="1.50"/><circle cx="104.08" cy="437.95" r="1.50"/><circle cx="105.46" cy="438.56" r="1.50"/><circle cx="106.85" cy="438.42" r="1.50"/><circle cx="108.23" cy="439.22" r="1.50"/><circle cx="109.61" cy="438.89" r="1.50"/><circle cx="110.99" cy="439.03" r="1.50"/><circle cx="112.37" cy="439.28" r="1.50"/><circle cx="113.75" cy="439.62" r="1.50"/><circle cx="115.14" cy="440.06" r="1.50"/><circle cx="116.52" cy="439.73" r="1.50"/><circle cx="117.90" cy="440.49" r="1.50"/><circle cx="119.28" cy="439.78" r="1.50"/><circle cx="120.66" cy="440.13" r="1.50"/><circle cx="122.04" cy="440.10" r="1.50"/><circle cx="123.42" cy="440.28" r="1.50"/><circle cx="124.81" cy="441.25" r="1.50"/><circle cx="126.19" cy="441.46" r="1.50"/><circle cx="127.57" cy="441.19" r="1.50"/><circle cx="128.95" cy="441.58" r="1.50"/><circle cx="130.33" cy="442.23" r="1.50"/><circle cx="131.71" cy="443.01" r="1.50"/><circle cx="133.10" cy="443.47" r="1.50"/><circle cx="134.48" cy="443.78" r="1.50"/><circle cx="135.86" cy="443.97" r="1.50"/><circle cx="137.24" cy="443.81" r="1.50"/><circle cx="138.62" cy="444.50" r="1.50"/><circle cx="140.00" cy="444.63" r="1.50"/><circle cx="141.39" cy="445.20" r="1.50"/><circle cx="142.77" cy="445.42" r="1.50"/><circle cx="144.15" cy="445.15" r="1.50"/><circle cx="145.53" cy="445.38" r="1.50"/><circle cx="146.91" cy="446.18" r="1.50"/><circle cx="148.29" cy="445.45" r="1.50"/><circle cx="149.68" cy="446.55" r="1.50"/><circle cx="151.06" cy="446.82" r="1.50"/><circle cx="152.44" cy="447.06" r="1.50"/><circle cx="153.82" cy="446.55" r="1.50"/><circle cx="155.20" cy="446.92" r="1.50"/><circle cx="156.58" cy="447.13" r="1.50"/><circle cx="157.96" cy="447.36" r="1.50"/><circle cx="159.35" cy="447.84" r="1.50"/><circle cx="160.73" cy="447.56" r="1.50"/><circle cx="162.11" cy="447.16" r="1.50"/><circle cx="163.49" cy="447.91" r="1.50"/><circle cx="164.87" cy="447.52" r="1.50"/><circle cx="166.25" cy="447.73" r="1.50"/><circle cx="167.64" cy="447.95" r="1.50"/><circle cx="169.02" cy="447.15" r="1.50"/><circle cx="170.40" cy="448.14" r="1.50"/><circle cx="171.78" cy="448.08" r="1.50"/><circle cx="173.16" cy="447.95" r="1.50"/><circle cx="174.54" cy="448.06" r="1.50"/><circle cx="175.93" cy="448.05" r="1.50"/><circle cx="177.31" cy="447.86" r="1.50"/><circle cx="178.69" cy="448.40" r="1.50"/><circle cx="180.07" cy="447.95" r="1.50"/><circle cx="181.45" cy="448.65" r="1.50"/><circle cx="182.83" cy="448.96" r="1.50"/><circle cx="184.22" cy="448.85" r="1.50"/><circle cx="185.60" cy="449.14" r="1.50"/><circle cx="186.98" cy="449.75" r="1.50"/><circle cx="188.36" cy="449.81" r="1.50"/><circle cx="189.74" cy="449.04" r="1.50"/><circle cx="191.12" cy="449.96" r="1.50"/><circle cx="192.50" cy="449.90" r="1.50"/><circle cx="193.89" cy="449.35" r="1.50"/><circle cx="195.27" cy="449.85" r="1.50"/><circle cx="196.65" cy="449.83" r="1.50"/><circle cx="198.03" cy="449.77" r="1.50"/><circle cx="199.41" cy="450.45" r="1.50"/><circle cx="200.79" cy="451.05" r="1.50"/><circle cx="202.18" cy="450.45" r="1.50"/><circle cx="203.56" cy="451.23" r="1.50"/><circle cx="204.94" cy="451.15" r="1.50"/><circle cx="206.32" cy="450.61" r="1.50"/><circle cx="207.70" cy="451.61" r="1.50"/><circle cx="209.08" cy="451.43" r="1.50"/><circle cx="210.47" cy="451.95" r="1.50"/><circle cx="211.85" cy="451.82" r="1.50"/><circle cx="213.23" cy="451.98" r="1.50"/><circle cx="214.61" cy="451.63" r="1.50"/><circle cx="215.99" cy="452.32" r="1.50"/><circle cx="217.37" cy="452.59" r="1.50"/><circle cx="218.76" cy="452.64" r="1.50"/><circle cx="220.14" cy="452.26" r="1.50"/><circle cx="221.52" cy="452.77" r="1.50"/><circle cx="222.90" cy="452.57" r="1.50"/></g>
<g fill="#129c9c"><circle cx="52.96" cy="440.45" r="1.50"/><circle cx="54.34" cy="442.61" r="1.50"/><circle cx="55.73" cy="444.19" r="1.50"/><circle cx="57.11" cy="445.82" r="1.50"/><circle cx="58.49" cy="447.09" r="1.50"/><circle cx="59.87" cy="448.12" r="1.50"/><circle cx="61.25" cy="449.07" r="1.50"/><circle cx="62.63" cy="449.80" r="1.50"/><circle cx="64.02" cy="450.36" r="1.50"/><circle cx="65.40" cy="451.05" r="1.50"/><circle cx="66.78" cy="451.39" r="1.50"/><circle cx="68.16" cy="452.04" r="1.50"/><circle cx="69.54" cy="452.77" r="1.50"/><circle cx="70.92" cy="453.11" r="1.50"/><circle cx="72.31" cy="453.53" r="1.50"/><circle cx="73.69" cy="454.54" r="1.50"/><circle cx="75.07" cy="455.02" r="1.50"/><circle cx="76.45" cy="455.40" r="1.50"/><circle cx="77.83" cy="456.00" r="1.50"/><circle cx="79.21" cy="456.69" r="1.50"/><circle cx="80.60" cy="457.32" r="1.50"/><circle cx="81.98" cy="457.69" r="1.50"/><circle cx="83.36" cy="458.24" r="1.50"/><circle cx="84.74" cy="459.29" r="1.50"/><circle cx="86.12" cy="460.57" r="1.50"/><circle cx="87.50" cy="461.11" r="1.50"/><circle cx="88.88" cy="462.23" r="1.50"/><circle cx="90.27" cy="462.99" r="1.50"/><circle cx="91.65" cy="463.88" r="1.50"/><circle cx="93.03" cy="464.74" r="1.50"/><circle cx="94.41" cy="465.77" r="1.50"/><circle cx="95.79" cy="466.46" r="1.50"/><circle cx="97.17" cy="467.18" r="1.50"/><circle cx="98.56" cy="468.03" r="1.50"/><circle cx="99.94" cy="468.86" r="1.50"/><circle cx="101.32" cy="469.86" r="1.50"/><circle cx="102.70" cy="470.40" r="1.50"/><circle cx="104.08" cy="471.18" r="1.50"/><circle cx="105.46" cy="472.11" r="1.50"/><circle cx="106.85" cy="472.51" r="1.50"/><circle cx="108.23" cy="473.11" r="1.50"/><circle cx="109.61" cy="473.15" r="1.50"/><circle cx="110.99" cy="473.78" r="1.50"/><circle cx="112.37" cy="474.20" r="1.50"/><circle cx="113.75" cy="474.41" r="1.50"/><circle cx="115.14" cy="475.39" r="1.50"/><circle cx="116.52" cy="475.37" r="1.50"/><circle cx="117.90" cy="475.72" r="1.50"/><circle cx="119.28" cy="476.37" r="1.50"/><circle cx="120.66" cy="476.61" r="1.50"/><circle cx="122.04" cy="477.31" r="1.50"/><circle cx="123.42" cy="477.57" r="1.50"/><circle cx="124.81" cy="477.86" r="1.50"/><circle cx="126.19" cy="478.27" r="1.50"/><circle cx="127.57" cy="479.16" r="1.50"/><circle cx="128.95" cy="479.38" r="1.50"/><circle cx="130.33" cy="480.17" r="1.50"/><circle cx="131.71" cy="480.46" r="1.50"/><circle cx="133.10" cy="481.23" r="1.50"/><circle cx="134.48" cy="481.34" r="1.50"/><circle cx="135.86" cy="481.79" r="1.50"/><circle cx="137.24" cy="482.29" r="1.50"/><circle cx="138.62" cy="483.10" r="1.50"/><circle cx="140.00" cy="483.48" r="1.50"/><circle cx="141.39" cy="483.66" r="1.50"/><circle cx="142.77" cy="483.86" r="1.50"/><circle cx="144.15" cy="484.57" r="1.50"/><circle cx="145.53" cy="485.09" r="1.50"/><circle cx="146.91" cy="485.22" r="1.50"/><circle cx="148.29" cy="485.22" r="1.50"/><circle cx="149.68" cy="485.59" r="1.50"/><circle cx="151.06" cy="485.98" r="1.50"/><circle cx="152.44" cy="486.38" r="1.50"/><circle cx="153.82" cy="486.65" r="1.50"/><circle cx="155.20" cy="487.02" r="1.50"/><circle cx="156.58" cy="487.73" r="1.50"/><circle cx="157.96" cy="488.23" r="1.50"/><circle cx="159.35" cy="488.16" r="1.50"/><circle cx="160.73" cy="488.97" r="1.50"/><circle cx="162.11" cy="489.01" r="1.50"/><circle cx="163.49" cy="489.55" r="1.50"/><circle cx="164.87" cy="489.97" r="1.50"/><circle cx="166.25" cy="490.33" r="1.50"/><circle cx="167.64" cy="490.13" r="1.50"/><circle cx="169.02" cy="490.64" r="1.50"/><circle cx="170.40" cy="491.16" r="1.50"/><circle cx="171.78" cy="491.71" r="1.50"/><circle cx="173.16" cy="491.54" r="1.50"/><circle cx="174.54" cy="492.01" r="1.50"/><circle cx="175.93" cy="492.69" r="1.50"/><circle cx="177.31" cy="492.53" r="1.50"/><circle cx="178.69" cy="492.97" r="1.50"/><circle cx="180.07" cy="493.21" r="1.50"/><circle cx="181.45" cy="493.70" r="1.50"/><circle cx="182.83" cy="494.12" r="1.50"/><circle cx="184.22" cy="493.95" r="1.50"/><circle cx="185.60" cy="494.56" r="1.50"/><circle cx="186.98" cy="494.84" r="1.50"/><circle cx="188.36" cy="495.17" r="1.50"/><circle cx="189.74" cy="495.28" r="1.50"/><circle cx="191.12" cy="495.78" r="1.50"/><circle cx="192.50" cy="495.72" r="1.50"/><circle cx="193.89" cy="496.03" r="1.50"/><circle cx="195.27" cy="496.06" r="1.50"/><circle cx="196.65" cy="496.51" r="1.50"/><circle cx="198.03" cy="496.46" r="1.50"/><circle cx="199.41" cy="496.47" r="1.50"/><circle cx="200.79" cy="496.53" r="1.50"/><circle cx="202.18" cy="496.99" r="1.50"/><circle cx="203.56" cy="497.05" r="1.50"/><circle cx="204.94" cy="497.24" r="1.50"/><circle cx="206.32" cy="497.18" r="1.50"/><circle cx="207.70" cy="497.37" r="1.50"/><circle cx="209.08" cy="497.30" r="1.50"/><circle cx="210.47" cy="497.76" r="1.50"/><circle cx="211.85" cy="497.48" r="1.50"/><circle cx="213.23" cy="497.87" r="1.50"/><circle cx="214.61" cy="498.17" r="1.50"/><circle cx="215.99" cy="498.25" r="1.50"/><circle cx="217.37" cy="498.03" r="1.50"/><circle cx="218.76" cy="498.25" r="1.50"/><circle cx="220.14" cy="498.74" r="1.50"/><circle cx="221.52" cy="498.75" r="1.50"/><circle cx="222.90" cy="499.02" r="1.50"/></g>
<g fill="#222"><circle cx="52.96" cy="450.26" r="1.50"/><circle cx="54.34" cy="452.11" r="1.50"/><circle cx="55.73" cy="454.68" r="1.50"/><circle cx="57.11" cy="456.76" r="1.50"/><circle cx="58.49" cy="458.55" r="1.50"/><circle cx="59.87" cy="460.52" r="1.50"/><circle cx="61.25" cy="462.21" r="1.50"/><circle cx="62.63" cy="464.41" r="1.50"/><circle cx="64.02" cy="466.69" r="1.50"/><circle cx="65.40" cy="467.80" r="1.50"/><circle cx="66.78" cy="469.97" r="1.50"/><circle cx="68.16" cy="471.30" r="1.50"/><circle cx="69.54" cy="472.24" r="1.50"/><circle cx="70.92" cy="473.67" r="1.50"/><circle cx="72.31" cy="474.31" r="1.50"/><circle cx="73.69" cy="475.05" r="1.50"/><circle cx="75.07" cy="475.96" r="1.50"/><circle cx="76.45" cy="477.19" r="1.50"/><circle cx="77.83" cy="477.97" r="1.50"/><circle cx="79.21" cy="478.22" r="1.50"/><circle cx="80.60" cy="479.08" r="1.50"/><circle cx="81.98" cy="480.36" r="1.50"/><circle cx="83.36" cy="480.46" r="1.50"/><circle cx="84.74" cy="481.42" r="1.50"/><circle cx="86.12" cy="482.00" r="1.50"/><circle cx="87.50" cy="482.98" r="1.50"/><circle cx="88.88" cy="483.36" r="1.50"/><circle cx="90.27" cy="483.93" r="1.50"/><circle cx="91.65" cy="484.15" r="1.50"/><circle cx="93.03" cy="484.30" r="1.50"/><circle cx="94.41" cy="484.71" r="1.50"/><circle cx="95.79" cy="485.06" r="1.50"/><circle cx="97.17" cy="486.08" r="1.50"/><circle cx="98.56" cy="485.94" r="1.50"/><circle cx="99.94" cy="486.29" r="1.50"/><circle cx="101.32" cy="487.43" r="1.50"/><circle cx="102.70" cy="487.06" r="1.50"/><circle cx="104.08" cy="487.87" r="1.50"/><circle cx="105.46" cy="487.47" r="1.50"/><circle cx="106.85" cy="488.02" r="1.50"/><circle cx="108.23" cy="488.07" r="1.50"/><circle cx="109.61" cy="488.80" r="1.50"/><circle cx="110.99" cy="488.88" r="1.50"/><circle cx="112.37" cy="489.14" r="1.50"/><circle cx="113.75" cy="489.49" r="1.50"/><circle cx="115.14" cy="489.82" r="1.50"/><circle cx="116.52" cy="489.59" r="1.50"/><circle cx="117.90" cy="490.00" r="1.50"/><circle cx="119.28" cy="490.07" r="1.50"/><circle cx="120.66" cy="490.00" r="1.50"/><circle cx="122.04" cy="490.77" r="1.50"/><circle cx="123.42" cy="490.78" r="1.50"/><circle cx="124.81" cy="491.15" r="1.50"/><circle cx="126.19" cy="490.92" r="1.50"/><circle cx="127.57" cy="491.50" r="1.50"/><circle cx="128.95" cy="491.76" r="1.50"/><circle cx="130.33" cy="492.28" r="1.50"/><circle cx="131.71" cy="492.08" r="1.50"/><circle cx="133.10" cy="492.61" r="1.50"/><circle cx="134.48" cy="493.03" r="1.50"/><circle cx="135.86" cy="493.01" r="1.50"/><circle cx="137.24" cy="493.71" r="1.50"/><circle cx="138.62" cy="494.17" r="1.50"/><circle cx="140.00" cy="494.24" r="1.50"/><circle cx="141.39" cy="494.70" r="1.50"/><circle cx="142.77" cy="494.94" r="1.50"/><circle cx="144.15" cy="494.90" r="1.50"/><circle cx="145.53" cy="495.29" r="1.50"/><circle cx="146.91" cy="496.08" r="1.50"/><circle cx="148.29" cy="495.83" r="1.50"/><circle cx="149.68" cy="496.18" r="1.50"/><circle cx="151.06" cy="496.18" r="1.50"/><circle cx="152.44" cy="496.56" r="1.50"/><circle cx="153.82" cy="496.80" r="1.50"/><circle cx="155.20" cy="497.69" r="1.50"/><circle cx="156.58" cy="497.80" r="1.50"/><circle cx="157.96" cy="498.19" r="1.50"/><circle cx="159.35" cy="498.56" r="1.50"/><circle cx="160.73" cy="498.54" r="1.50"/><circle cx="162.11" cy="499.07" r="1.50"/><circle cx="163.49" cy="499.03" r="1.50"/><circle cx="164.87" cy="499.21" r="1.50"/><circle cx="166.25" cy="499.91" r="1.50"/><circle cx="167.64" cy="500.15" r="1.50"/><circle cx="169.02" cy="500.46" r="1.50"/><circle cx="170.40" cy="500.37" r="1.50"/><circle cx="171.78" cy="500.87" r="1.50"/><circle cx="173.16" cy="500.86" r="1.50"/><circle cx="174.54" cy="501.61" r="1.50"/><circle cx="175.93" cy="501.82" r="1.50"/><circle cx="177.31" cy="501.59" r="1.50"/><circle cx="178.69" cy="502.36" r="1.50"/><circle cx="180.07" cy="502.03" r="1.50"/><circle cx="181.45" cy="502.23" r="1.50"/><circle cx="182.83" cy="502.99" r="1.50"/><circle cx="184.22" cy="502.92" r="1.50"/><circle cx="185.60" cy="503.36" r="1.50"/><circle cx="186.98" cy="503.72" r="1.50"/><circle cx="188.36" cy="503.51" r="1.50"/></g>
<g fill="#ff2a2a"><circle cx="52.96" cy="446.21" r="1.50"/><circle cx="54.34" cy="447.47" r="1.50"/><circle cx="55.73" cy="450.39" r="1.50"/><circle cx="57.11" cy="453.06" r="1.50"/><circle cx="58.49" cy="455.93" r="1.50"/><circle cx="59.87" cy="457.87" r="1.50"/><circle cx="61.25" cy="459.34" r="1.50"/><circle cx="62.63" cy="461.09" r="1.50"/><circle cx="64.02" cy="463.63" r="1.50"/><circle cx="65.40" cy="466.23" r="1.50"/><circle cx="66.78" cy="468.38" r="1.50"/><circle cx="68.16" cy="470.91" r="1.50"/><circle cx="69.54" cy="473.73" r="1.50"/><circle cx="70.92" cy="475.88" r="1.50"/><circle cx="72.31" cy="478.37" r="1.50"/><circle cx="73.69" cy="480.17" r="1.50"/><circle cx="75.07" cy="481.44" r="1.50"/><circle cx="76.45" cy="482.32" r="1.50"/><circle cx="77.83" cy="483.49" r="1.50"/><circle cx="79.21" cy="484.77" r="1.50"/><circle cx="80.60" cy="486.00" r="1.50"/><circle cx="81.98" cy="487.15" r="1.50"/><circle cx="83.36" cy="488.25" r="1.50"/><circle cx="84.74" cy="489.16" r="1.50"/><circle cx="86.12" cy="490.18" r="1.50"/><circle cx="87.50" cy="490.02" r="1.50"/><circle cx="88.88" cy="490.61" r="1.50"/><circle cx="90.27" cy="491.44" r="1.50"/><circle cx="91.65" cy="491.77" r="1.50"/><circle cx="93.03" cy="491.67" r="1.50"/><circle cx="94.41" cy="492.02" r="1.50"/><circle cx="95.79" cy="492.99" r="1.50"/><circle cx="97.17" cy="492.60" r="1.50"/><circle cx="98.56" cy="493.13" r="1.50"/><circle cx="99.94" cy="493.94" r="1.50"/><circle cx="101.32" cy="494.35" r="1.50"/><circle cx="102.70" cy="494.39" r="1.50"/><circle cx="104.08" cy="494.68" r="1.50"/><circle cx="105.46" cy="495.22" r="1.50"/><circle cx="106.85" cy="496.12" r="1.50"/><circle cx="108.23" cy="496.15" r="1.50"/><circle cx="109.61" cy="497.00" r="1.50"/><circle cx="110.99" cy="497.15" r="1.50"/><circle cx="112.37" cy="497.68" r="1.50"/><circle cx="113.75" cy="497.07" r="1.50"/><circle cx="115.14" cy="497.56" r="1.50"/><circle cx="116.52" cy="497.72" r="1.50"/><circle cx="117.90" cy="498.48" r="1.50"/><circle cx="119.28" cy="498.72" r="1.50"/><circle cx="120.66" cy="498.77" r="1.50"/><circle cx="122.04" cy="499.60" r="1.50"/><circle cx="123.42" cy="499.49" r="1.50"/><circle cx="124.81" cy="500.04" r="1.50"/><circle cx="126.19" cy="500.25" r="1.50"/><circle cx="127.57" cy="501.02" r="1.50"/><circle cx="128.95" cy="500.84" r="1.50"/><circle cx="130.33" cy="500.89" r="1.50"/><circle cx="131.71" cy="500.89" r="1.50"/><circle cx="133.10" cy="501.48" r="1.50"/><circle cx="134.48" cy="501.89" r="1.50"/><circle cx="135.86" cy="502.15" r="1.50"/><circle cx="137.24" cy="502.59" r="1.50"/><circle cx="138.62" cy="502.70" r="1.50"/><circle cx="140.00" cy="502.35" r="1.50"/><circle cx="141.39" cy="502.39" r="1.50"/><circle cx="142.77" cy="503.17" r="1.50"/><circle cx="144.15" cy="503.35" r="1.50"/><circle cx="145.53" cy="503.22" r="1.50"/><circle cx="146.91" cy="503.70" r="1.50"/><circle cx="148.29" cy="503.57" r="1.50"/><circle cx="149.68" cy="503.45" r="1.50"/><circle cx="151.06" cy="503.50" r="1.50"/><circle cx="152.44" cy="503.50" r="1.50"/><circle cx="153.82" cy="504.28" r="1.50"/><circle cx="155.20" cy="504.69" r="1.50"/><circle cx="156.58" cy="504.85" r="1.50"/><circle cx="157.96" cy="504.56" r="1.50"/><circle cx="159.35" cy="504.88" r="1.50"/><circle cx="160.73" cy="505.26" r="1.50"/><circle cx="162.11" cy="505.26" r="1.50"/><circle cx="163.49" cy="505.16" r="1.50"/><circle cx="164.87" cy="505.09" r="1.50"/><circle cx="166.25" cy="505.31" r="1.50"/><circle cx="167.64" cy="505.07" r="1.50"/><circle cx="169.02" cy="505.20" r="1.50"/><circle cx="170.40" cy="505.82" r="1.50"/><circle cx="171.78" cy="506.24" r="1.50"/><circle cx="173.16" cy="505.91" r="1.50"/><circle cx="174.54" cy="505.89" r="1.50"/><circle cx="175.93" cy="505.95" r="1.50"/><circle cx="177.31" cy="506.20" r="1.50"/><circle cx="178.69" cy="506.69" r="1.50"/><circle cx="180.07" cy="506.49" r="1.50"/><circle cx="181.45" cy="507.15" r="1.50"/><circle cx="182.83" cy="506.49" r="1.50"/><circle cx="184.22" cy="506.80" r="1.50"/><circle cx="185.60" cy="507.16" r="1.50"/><circle cx="186.98" cy="507.19" r="1.50"/><circle cx="188.36" cy="507.78" r="1.50"/></g>
<rect x="50.20" y="384.50" width="172.60" height="128.80" fill="none" stroke="#1e1e1e" stroke-width="1.10"/>
<line x1="222.80" y1="384.50" x2="222.80" y2="513.30" stroke="#ff2a2a" stroke-width="1.3"/>
<line x1="50.20" y1="513.30" x2="47.60" y2="513.30" stroke="#1e1e1e" stroke-width="1.1"/>
<text x="45.70" y="516.25" font-size="8.30" text-anchor="end" fill="#222" stroke="#222" stroke-width="0.22" >0</text>
<line x1="50.20" y1="489.74" x2="47.60" y2="489.74" stroke="#1e1e1e" stroke-width="1.1"/>
<text x="45.70" y="492.69" font-size="8.30" text-anchor="end" fill="#222" stroke="#222" stroke-width="0.22" >100</text>
<line x1="50.20" y1="466.18" x2="47.60" y2="466.18" stroke="#1e1e1e" stroke-width="1.1"/>
<text x="45.70" y="469.13" font-size="8.30" text-anchor="end" fill="#222" stroke="#222" stroke-width="0.22" >200</text>
<line x1="50.20" y1="442.62" x2="47.60" y2="442.62" stroke="#1e1e1e" stroke-width="1.1"/>
<text x="45.70" y="445.57" font-size="8.30" text-anchor="end" fill="#222" stroke="#222" stroke-width="0.22" >300</text>
<line x1="50.20" y1="419.06" x2="47.60" y2="419.06" stroke="#1e1e1e" stroke-width="1.1"/>
<text x="45.70" y="422.01" font-size="8.30" text-anchor="end" fill="#222" stroke="#222" stroke-width="0.22" >400</text>
<line x1="50.20" y1="395.50" x2="47.60" y2="395.50" stroke="#1e1e1e" stroke-width="1.1"/>
<text x="45.70" y="398.45" font-size="8.30" text-anchor="end" fill="#222" stroke="#222" stroke-width="0.22" >500</text>
<line x1="50.20" y1="501.52" x2="48.60" y2="501.52" stroke="#1e1e1e" stroke-width="1"/>
<line x1="50.20" y1="477.96" x2="48.60" y2="477.96" stroke="#1e1e1e" stroke-width="1"/>
<line x1="50.20" y1="454.40" x2="48.60" y2="454.40" stroke="#1e1e1e" stroke-width="1"/>
<line x1="50.20" y1="430.84" x2="48.60" y2="430.84" stroke="#1e1e1e" stroke-width="1"/>
<line x1="50.20" y1="407.28" x2="48.60" y2="407.28" stroke="#1e1e1e" stroke-width="1"/>
<line x1="222.80" y1="513.30" x2="225.40" y2="513.30" stroke="#ff2a2a" stroke-width="1.1"/>
<text x="227.30" y="516.25" font-size="8.30" text-anchor="start" fill="#ff2a2a" stroke="#ff2a2a" stroke-width="0.22" >0</text>
<line x1="222.80" y1="489.74" x2="225.40" y2="489.74" stroke="#ff2a2a" stroke-width="1.1"/>
<text x="227.30" y="492.69" font-size="8.30" text-anchor="start" fill="#ff2a2a" stroke="#ff2a2a" stroke-width="0.22" >20</text>
<line x1="222.80" y1="466.18" x2="225.40" y2="466.18" stroke="#ff2a2a" stroke-width="1.1"/>
<text x="227.30" y="469.13" font-size="8.30" text-anchor="start" fill="#ff2a2a" stroke="#ff2a2a" stroke-width="0.22" >40</text>
<line x1="222.80" y1="442.62" x2="225.40" y2="442.62" stroke="#ff2a2a" stroke-width="1.1"/>
<text x="227.30" y="445.57" font-size="8.30" text-anchor="start" fill="#ff2a2a" stroke="#ff2a2a" stroke-width="0.22" >60</text>
<line x1="222.80" y1="419.06" x2="225.40" y2="419.06" stroke="#ff2a2a" stroke-width="1.1"/>
<text x="227.30" y="422.01" font-size="8.30" text-anchor="start" fill="#ff2a2a" stroke="#ff2a2a" stroke-width="0.22" >80</text>
<line x1="222.80" y1="395.50" x2="225.40" y2="395.50" stroke="#ff2a2a" stroke-width="1.1"/>
<text x="227.30" y="398.45" font-size="8.30" text-anchor="start" fill="#ff2a2a" stroke="#ff2a2a" stroke-width="0.22" >100</text>
<line x1="222.80" y1="501.52" x2="224.40" y2="501.52" stroke="#ff2a2a" stroke-width="1"/>
<line x1="222.80" y1="477.96" x2="224.40" y2="477.96" stroke="#ff2a2a" stroke-width="1"/>
<line x1="222.80" y1="454.40" x2="224.40" y2="454.40" stroke="#ff2a2a" stroke-width="1"/>
<line x1="222.80" y1="430.84" x2="224.40" y2="430.84" stroke="#ff2a2a" stroke-width="1"/>
<line x1="222.80" y1="407.28" x2="224.40" y2="407.28" stroke="#ff2a2a" stroke-width="1"/>
<line x1="50.20" y1="513.30" x2="50.20" y2="515.50" stroke="#1e1e1e" stroke-width="1.1"/>
<text x="50.20" y="524.30" font-size="8.30" text-anchor="middle" fill="#111" stroke="#111" stroke-width="0.22" >0</text>
<line x1="77.83" y1="513.30" x2="77.83" y2="515.50" stroke="#1e1e1e" stroke-width="1.1"/>
<text x="77.83" y="524.30" font-size="8.30" text-anchor="middle" fill="#111" stroke="#111" stroke-width="0.22" >20</text>
<line x1="105.46" y1="513.30" x2="105.46" y2="515.50" stroke="#1e1e1e" stroke-width="1.1"/>
<text x="105.46" y="524.30" font-size="8.30" text-anchor="middle" fill="#111" stroke="#111" stroke-width="0.22" >40</text>
<line x1="133.10" y1="513.30" x2="133.10" y2="515.50" stroke="#1e1e1e" stroke-width="1.1"/>
<text x="133.10" y="524.30" font-size="8.30" text-anchor="middle" fill="#111" stroke="#111" stroke-width="0.22" >60</text>
<line x1="160.73" y1="513.30" x2="160.73" y2="515.50" stroke="#1e1e1e" stroke-width="1.1"/>
<text x="160.73" y="524.30" font-size="8.30" text-anchor="middle" fill="#111" stroke="#111" stroke-width="0.22" >80</text>
<line x1="188.36" y1="513.30" x2="188.36" y2="515.50" stroke="#1e1e1e" stroke-width="1.1"/>
<text x="188.36" y="524.30" font-size="8.30" text-anchor="middle" fill="#111" stroke="#111" stroke-width="0.22" >100</text>
<line x1="215.99" y1="513.30" x2="215.99" y2="515.50" stroke="#1e1e1e" stroke-width="1.1"/>
<text x="215.99" y="524.30" font-size="8.30" text-anchor="middle" fill="#111" stroke="#111" stroke-width="0.22" >120</text>
<line x1="64.02" y1="513.30" x2="64.02" y2="514.80" stroke="#1e1e1e" stroke-width="1"/>
<line x1="91.65" y1="513.30" x2="91.65" y2="514.80" stroke="#1e1e1e" stroke-width="1"/>
<line x1="119.28" y1="513.30" x2="119.28" y2="514.80" stroke="#1e1e1e" stroke-width="1"/>
<line x1="146.91" y1="513.30" x2="146.91" y2="514.80" stroke="#1e1e1e" stroke-width="1"/>
<line x1="174.54" y1="513.30" x2="174.54" y2="514.80" stroke="#1e1e1e" stroke-width="1"/>
<line x1="202.18" y1="513.30" x2="202.18" y2="514.80" stroke="#1e1e1e" stroke-width="1"/>
<circle cx="183" cy="407.40" r="1.5" fill="#222"/><circle cx="186.3" cy="407.40" r="1.5" fill="none" stroke="#777" stroke-width="0.7"/>
<text x="193.80" y="410.40" font-size="8.30" text-anchor="start" fill="#111" stroke="#111" stroke-width="0.22" >0 ALD</text>
<circle cx="183" cy="417.50" r="1.5" fill="#f22"/><circle cx="186.3" cy="417.50" r="1.5" fill="none" stroke="#f66" stroke-width="0.7"/>
<text x="193.80" y="420.50" font-size="8.30" text-anchor="start" fill="#111" stroke="#111" stroke-width="0.22" >8 ALD</text>
<circle cx="183" cy="427.60" r="1.5" fill="#a020b0"/><circle cx="186.3" cy="427.60" r="1.5" fill="none" stroke="#b070c0" stroke-width="0.7"/>
<text x="193.80" y="430.60" font-size="8.30" text-anchor="start" fill="#111" stroke="#111" stroke-width="0.22" >12 ALD</text>
<circle cx="183" cy="437.70" r="1.5" fill="#129c9c"/><circle cx="186.3" cy="437.70" r="1.5" fill="none" stroke="#70c8c8" stroke-width="0.7"/>
<text x="193.80" y="440.70" font-size="8.30" text-anchor="start" fill="#111" stroke="#111" stroke-width="0.22" >16 ALD</text>
<text x="136.50" y="538.00" font-size="11.00" text-anchor="middle" fill="#111" stroke="#111" stroke-width="0.12" >Cycle Numbers(n)</text>
<text transform="translate(19.8,457.2) rotate(-90)" font-size="12.4" text-anchor="middle" fill="#111" stroke="#111" stroke-width="0.2">Capacity(mAh g<tspan font-size="8" dy="-4.5">&#8722;1</tspan><tspan dy="4.5">)</tspan></text>
<text transform="translate(252.5,449) rotate(-90)" font-size="11" text-anchor="middle" fill="#ff2020" stroke="#ff2020" stroke-width="0.2">Coulombic efficiency(%)</text>
<text x="6.60" y="394.70" font-size="16.00" text-anchor="start" fill="#111" stroke="#111" stroke-width="0.00" >(e)</text>
<rect x="295.10" y="379.00" width="186.10" height="138.50" fill="none" stroke="#1e1e1e" stroke-width="1.10"/>
<line x1="295.10" y1="517.50" x2="292.50" y2="517.50" stroke="#1e1e1e" stroke-width="1.1"/>
<text x="290.30" y="520.45" font-size="8.80" text-anchor="end" fill="#222" stroke="#222" stroke-width="0.12" >0</text>
<line x1="295.10" y1="486.78" x2="292.50" y2="486.78" stroke="#1e1e1e" stroke-width="1.1"/>
<text x="290.30" y="489.73" font-size="8.80" text-anchor="end" fill="#222" stroke="#222" stroke-width="0.12" >400</text>
<line x1="295.10" y1="456.06" x2="292.50" y2="456.06" stroke="#1e1e1e" stroke-width="1.1"/>
<text x="290.30" y="459.01" font-size="8.80" text-anchor="end" fill="#222" stroke="#222" stroke-width="0.12" >800</text>
<line x1="295.10" y1="425.34" x2="292.50" y2="425.34" stroke="#1e1e1e" stroke-width="1.1"/>
<text x="290.30" y="428.29" font-size="8.80" text-anchor="end" fill="#222" stroke="#222" stroke-width="0.12" >1200</text>
<line x1="295.10" y1="394.62" x2="292.50" y2="394.62" stroke="#1e1e1e" stroke-width="1.1"/>
<text x="290.30" y="397.57" font-size="8.80" text-anchor="end" fill="#222" stroke="#222" stroke-width="0.12" >1600</text>
<line x1="295.10" y1="502.14" x2="293.50" y2="502.14" stroke="#1e1e1e" stroke-width="1"/>
<line x1="295.10" y1="471.42" x2="293.50" y2="471.42" stroke="#1e1e1e" stroke-width="1"/>
<line x1="295.10" y1="440.70" x2="293.50" y2="440.70" stroke="#1e1e1e" stroke-width="1"/>
<line x1="295.10" y1="409.98" x2="293.50" y2="409.98" stroke="#1e1e1e" stroke-width="1"/>
<line x1="295.10" y1="517.50" x2="295.10" y2="519.70" stroke="#1e1e1e" stroke-width="1.1"/>
<text x="295.10" y="529.50" font-size="8.80" text-anchor="middle" fill="#111" stroke="#111" stroke-width="0.12" >0</text>
<line x1="336.14" y1="517.50" x2="336.14" y2="519.70" stroke="#1e1e1e" stroke-width="1.1"/>
<text x="336.14" y="529.50" font-size="8.80" text-anchor="middle" fill="#111" stroke="#111" stroke-width="0.12" >400</text>
<line x1="377.18" y1="517.50" x2="377.18" y2="519.70" stroke="#1e1e1e" stroke-width="1.1"/>
<text x="377.18" y="529.50" font-size="8.80" text-anchor="middle" fill="#111" stroke="#111" stroke-width="0.12" >800</text>
<line x1="418.22" y1="517.50" x2="418.22" y2="519.70" stroke="#1e1e1e" stroke-width="1.1"/>
<text x="418.22" y="529.50" font-size="8.80" text-anchor="middle" fill="#111" stroke="#111" stroke-width="0.12" >1200</text>
<line x1="459.26" y1="517.50" x2="459.26" y2="519.70" stroke="#1e1e1e" stroke-width="1.1"/>
<text x="459.26" y="529.50" font-size="8.80" text-anchor="middle" fill="#111" stroke="#111" stroke-width="0.12" >1600</text>
<line x1="315.62" y1="517.50" x2="315.62" y2="519.00" stroke="#1e1e1e" stroke-width="1"/>
<line x1="356.66" y1="517.50" x2="356.66" y2="519.00" stroke="#1e1e1e" stroke-width="1"/>
<line x1="397.70" y1="517.50" x2="397.70" y2="519.00" stroke="#1e1e1e" stroke-width="1"/>
<line x1="438.74" y1="517.50" x2="438.74" y2="519.00" stroke="#1e1e1e" stroke-width="1"/>
<polyline points="299.00,517.30 304.50,516.60 309.30,515.00 313.30,512.50 317.30,510.50 321.40,508.90 325.00,506.90 330.60,505.30 333.50,504.10 337.10,503.50 341.00,503.50 345.60,503.10 353.10,504.10 359.10,506.10 363.10,507.50 365.20,507.50 368.20,505.50 371.60,501.10 375.80,493.40 382.70,481.40 392.70,463.30 409.40,435.10" fill="none" stroke="#6060d0" stroke-width="0.9"/>
<g fill="#1a1a9a"><circle cx="299.00" cy="517.30" r="1.90"/><circle cx="304.50" cy="516.60" r="1.90"/><circle cx="309.30" cy="515.00" r="1.90"/><circle cx="313.30" cy="512.50" r="1.90"/><circle cx="317.30" cy="510.50" r="1.90"/><circle cx="321.40" cy="508.90" r="1.90"/><circle cx="325.00" cy="506.90" r="1.90"/><circle cx="330.60" cy="505.30" r="1.90"/><circle cx="333.50" cy="504.10" r="1.90"/><circle cx="337.10" cy="503.50" r="1.90"/><circle cx="341.00" cy="503.50" r="1.90"/><circle cx="345.60" cy="503.10" r="1.90"/><circle cx="353.10" cy="504.10" r="1.90"/><circle cx="359.10" cy="506.10" r="1.90"/><circle cx="363.10" cy="507.50" r="1.90"/><circle cx="365.20" cy="507.50" r="1.90"/><circle cx="368.20" cy="505.50" r="1.90"/><circle cx="371.60" cy="501.10" r="1.90"/><circle cx="375.80" cy="493.40" r="1.90"/><circle cx="382.70" cy="481.40" r="1.90"/><circle cx="392.70" cy="463.30" r="1.90"/><circle cx="409.40" cy="435.10" r="1.90"/></g>
<polyline points="298.80,516.60 302.00,513.30 306.10,510.50 310.50,508.10 316.50,506.10 323.40,505.30 330.60,508.10 334.00,509.50 338.30,511.40 341.90,508.40 343.50,505.00 347.40,496.90 352.10,484.80 359.50,465.70 371.20,436.50" fill="none" stroke="#30b040" stroke-width="0.9"/>
<g fill="#1a9a2a"><circle cx="298.80" cy="516.60" r="1.90"/><circle cx="302.00" cy="513.30" r="1.90"/><circle cx="306.10" cy="510.50" r="1.90"/><circle cx="310.50" cy="508.10" r="1.90"/><circle cx="316.50" cy="506.10" r="1.90"/><circle cx="323.40" cy="505.30" r="1.90"/><circle cx="330.60" cy="508.10" r="1.90"/><circle cx="334.00" cy="509.50" r="1.90"/><circle cx="338.30" cy="511.40" r="1.90"/><circle cx="341.90" cy="508.40" r="1.90"/><circle cx="343.50" cy="505.00" r="1.90"/><circle cx="347.40" cy="496.90" r="1.90"/><circle cx="352.10" cy="484.80" r="1.90"/><circle cx="359.50" cy="465.70" r="1.90"/><circle cx="371.20" cy="436.50" r="1.90"/></g>
<polyline points="298.50,517.00 301.00,514.60 304.00,512.40 307.00,510.90 310.50,509.80 314.90,508.90 318.10,511.20 320.60,512.50 323.40,513.50 326.20,514.30 328.60,512.50 330.60,506.10 332.40,497.40 335.90,485.40" fill="none" stroke="#ff6060" stroke-width="0.9"/>
<g fill="#ff2020"><circle cx="298.50" cy="517.00" r="1.90"/><circle cx="301.00" cy="514.60" r="1.90"/><circle cx="304.00" cy="512.40" r="1.90"/><circle cx="307.00" cy="510.90" r="1.90"/><circle cx="310.50" cy="509.80" r="1.90"/><circle cx="314.90" cy="508.90" r="1.90"/><circle cx="318.10" cy="511.20" r="1.90"/><circle cx="320.60" cy="512.50" r="1.90"/><circle cx="323.40" cy="513.50" r="1.90"/><circle cx="326.20" cy="514.30" r="1.90"/><circle cx="328.60" cy="512.50" r="1.90"/><circle cx="330.60" cy="506.10" r="1.90"/><circle cx="332.40" cy="497.40" r="1.90"/><circle cx="335.90" cy="485.40" r="1.90"/></g>
<polyline points="299.00,517.00 302.00,514.20 306.00,511.80 310.00,510.40 314.00,510.20 318.10,510.90 322.20,513.30 325.40,515.30 327.80,514.10 330.20,510.90 332.80,503.00" fill="none" stroke="#c05050" stroke-width="0.9"/>
<g fill="#a81010"><circle cx="299.00" cy="517.00" r="1.90"/><circle cx="302.00" cy="514.20" r="1.90"/><circle cx="306.00" cy="511.80" r="1.90"/><circle cx="310.00" cy="510.40" r="1.90"/><circle cx="314.00" cy="510.20" r="1.90"/><circle cx="318.10" cy="510.90" r="1.90"/><circle cx="322.20" cy="513.30" r="1.90"/><circle cx="325.40" cy="515.30" r="1.90"/><circle cx="327.80" cy="514.10" r="1.90"/><circle cx="330.20" cy="510.90" r="1.90"/><circle cx="332.80" cy="503.00" r="1.90"/></g>
<polyline points="299.00,517.20 301.20,516.90 303.30,516.40 305.30,516.20 307.00,516.40 308.50,516.70 310.00,517.00" fill="none" stroke="#555" stroke-width="0.9"/>
<g fill="#111"><circle cx="299.00" cy="517.20" r="1.70"/><circle cx="301.20" cy="516.90" r="1.70"/><circle cx="303.30" cy="516.40" r="1.70"/><circle cx="305.30" cy="516.20" r="1.70"/><circle cx="307.00" cy="516.40" r="1.70"/><circle cx="308.50" cy="516.70" r="1.70"/><circle cx="310.00" cy="517.00" r="1.70"/></g>
<g fill="none" stroke="#444" stroke-width="0.9" stroke-linejoin="miter">
<polyline points="300.3,398.7 313,398.5 315.9,400.9 320.3,396.3 325.1,401.1 330,396.7 332,399 350.2,398.7 363.5,398.7"/>
<polyline points="359.5,394.3 363.5,398.7 359.5,403.3"/><polyline points="363.9,394.3 368.3,398.7 363.9,403.3"/><polyline points="368.3,398.7 393.5,398.7"/>
<polyline points="350.2,398.7 350.2,416 354.7,416 357.1,418.4 361.9,414.4 366.7,418.4 371.6,414.4 373.6,416 377.6,416 377.6,398.7"/>
<polyline points="393.5,394.3 397.9,403.1 400.7,398.3 403.1,403.1 407.5,394.3"/><polyline points="406.3,398.7 420.8,398.7"/>
</g>
<circle cx="350.2" cy="398.7" r="1.9" fill="#111"/>
<text x="320.90" y="393.60" font-size="6.00" text-anchor="middle" fill="#111" stroke="#111" stroke-width="0.22" >Rs</text>
<text x="363.70" y="390.60" font-size="6.00" text-anchor="middle" fill="#111" stroke="#111" stroke-width="0.22" >CPE1</text>
<text x="364.50" y="412.70" font-size="6.00" text-anchor="middle" fill="#111" stroke="#111" stroke-width="0.22" >Rct</text>
<text x="400.10" y="391.40" font-size="6.00" text-anchor="middle" fill="#111" stroke="#111" stroke-width="0.22" >Zw</text>
<line x1="422.4" y1="404.90" x2="443.1" y2="404.90" stroke="#999" stroke-width="1"/><circle cx="433" cy="404.90" r="2" fill="#111"/>
<text x="446.40" y="408.30" font-size="9.40" text-anchor="start" fill="#111" stroke="#111" stroke-width="0.12" >0 ALD</text>
<line x1="422.4" y1="416.73" x2="443.1" y2="416.73" stroke="#ff7070" stroke-width="1"/><circle cx="433" cy="416.73" r="2" fill="#ff2020"/>
<text x="446.40" y="420.13" font-size="9.40" text-anchor="start" fill="#111" stroke="#111" stroke-width="0.12" >8 ALD</text>
<line x1="422.4" y1="428.56" x2="443.1" y2="428.56" stroke="#d08080" stroke-width="1"/><circle cx="433" cy="428.56" r="2" fill="#a01010"/>
<text x="446.40" y="431.96" font-size="9.40" text-anchor="start" fill="#111" stroke="#111" stroke-width="0.12" >12 ALD</text>
<line x1="422.4" y1="440.39" x2="443.1" y2="440.39" stroke="#40b050" stroke-width="1"/><circle cx="433" cy="440.39" r="2" fill="#1a9a2a"/>
<text x="446.40" y="443.79" font-size="9.40" text-anchor="start" fill="#111" stroke="#111" stroke-width="0.12" >16 ALD</text>
<line x1="422.4" y1="452.22" x2="443.1" y2="452.22" stroke="#8080d0" stroke-width="1"/><circle cx="433" cy="452.22" r="2" fill="#1a1a9a"/>
<text x="446.40" y="455.62" font-size="9.40" text-anchor="start" fill="#111" stroke="#111" stroke-width="0.12" >20 ALD</text>
<rect x="417.20" y="459.10" width="60.70" height="44.70" fill="#fff" stroke="#1e1e1e" stroke-width="0.9"/>
<line x1="417.20" y1="503.80" x2="415.70" y2="503.80" stroke="#1e1e1e" stroke-width="0.7"/>
<text x="415.40" y="505.40" font-size="4.30" text-anchor="end" fill="#555" stroke="#555" stroke-width="0.22" >0</text>
<line x1="417.20" y1="503.80" x2="417.20" y2="505.30" stroke="#1e1e1e" stroke-width="0.7"/>
<text x="417.20" y="509.40" font-size="4.30" text-anchor="middle" fill="#555" stroke="#555" stroke-width="0.22" >0</text>
<line x1="417.20" y1="488.90" x2="415.70" y2="488.90" stroke="#1e1e1e" stroke-width="0.7"/>
<text x="415.40" y="490.50" font-size="4.30" text-anchor="end" fill="#555" stroke="#555" stroke-width="0.22" >50</text>
<line x1="437.43" y1="503.80" x2="437.43" y2="505.30" stroke="#1e1e1e" stroke-width="0.7"/>
<text x="437.43" y="509.40" font-size="4.30" text-anchor="middle" fill="#555" stroke="#555" stroke-width="0.22" >50</text>
<line x1="417.20" y1="474.00" x2="415.70" y2="474.00" stroke="#1e1e1e" stroke-width="0.7"/>
<text x="415.40" y="475.60" font-size="4.30" text-anchor="end" fill="#555" stroke="#555" stroke-width="0.22" >100</text>
<line x1="457.67" y1="503.80" x2="457.67" y2="505.30" stroke="#1e1e1e" stroke-width="0.7"/>
<text x="457.67" y="509.40" font-size="4.30" text-anchor="middle" fill="#555" stroke="#555" stroke-width="0.22" >100</text>
<line x1="417.20" y1="459.10" x2="415.70" y2="459.10" stroke="#1e1e1e" stroke-width="0.7"/>
<text x="415.40" y="460.70" font-size="4.30" text-anchor="end" fill="#555" stroke="#555" stroke-width="0.22" >150</text>
<line x1="477.90" y1="503.80" x2="477.90" y2="505.30" stroke="#1e1e1e" stroke-width="0.7"/>
<text x="477.90" y="509.40" font-size="4.30" text-anchor="middle" fill="#555" stroke="#555" stroke-width="0.22" >150</text>
<polyline points="433.50,502.90 438.90,494.40 443.50,489.80 448.90,485.30 458.00,479.90 461.60,479.00 470.00,476.00 476.00,475.40" fill="none" stroke="#e04040" stroke-width="1.4"/>
<polyline points="434.40,503.40 441.70,496.70 452.50,484.40 461.60,477.20 477.90,468.10" fill="none" stroke="#30b040" stroke-width="0.9"/>
<g fill="#e03030"><circle cx="433.50" cy="502.90" r="1.3"/><circle cx="438.90" cy="494.40" r="1.3"/><circle cx="443.50" cy="489.80" r="1.3"/><circle cx="448.90" cy="485.30" r="1.3"/><circle cx="458.00" cy="479.90" r="1.3"/><circle cx="461.60" cy="479.00" r="1.3"/><circle cx="470.00" cy="476.00" r="1.3"/><circle cx="476.00" cy="475.40" r="1.3"/></g>
<g fill="#1a9a2a"><circle cx="434.40" cy="503.40" r="1.1"/><circle cx="441.70" cy="496.70" r="1.1"/><circle cx="452.50" cy="484.40" r="1.1"/><circle cx="461.60" cy="477.20" r="1.1"/><circle cx="477.90" cy="468.10" r="1.1"/></g>
<g fill="#222"><circle cx="436.20" cy="500.70" r="1.1"/><circle cx="438.50" cy="498.70" r="1.1"/><circle cx="441.70" cy="497.10" r="1.1"/><circle cx="444.00" cy="496.30" r="1.1"/><circle cx="446.00" cy="495.80" r="1.1"/><circle cx="448.30" cy="495.40" r="1.1"/><circle cx="450.70" cy="495.30" r="1.1"/><circle cx="453.50" cy="495.60" r="1.1"/><circle cx="456.10" cy="496.20" r="1.1"/><circle cx="459.00" cy="497.40" r="1.1"/><circle cx="461.60" cy="498.90" r="1.1"/><circle cx="463.80" cy="500.20" r="1.1"/><circle cx="466.10" cy="501.60" r="1.1"/><circle cx="467.50" cy="502.00" r="1.1"/><circle cx="468.80" cy="501.60" r="1.1"/><circle cx="470.60" cy="500.60" r="1.1"/><circle cx="472.40" cy="498.90" r="1.1"/></g>
<g fill="#1a1a9a"><circle cx="469.70" cy="496.20" r="1.1"/><circle cx="474.20" cy="493.50" r="1.1"/></g>
<text x="447.10" y="516.20" font-size="7.00" text-anchor="middle" fill="#111" stroke="#111" stroke-width="0.22" >Z'(ohm)</text>
<text transform="translate(408.3,485.7) rotate(-90)" font-size="7.9" text-anchor="middle" fill="#111" stroke="#111" stroke-width="0.2">&#8722;Z''(ohm)</text>
<text x="388.30" y="543.00" font-size="12.50" text-anchor="middle" fill="#111" stroke="#111" stroke-width="0.12" >Z'(ohm)</text>
<text transform="translate(266.5,444) rotate(-90)" font-size="12.5" text-anchor="middle" fill="#111" stroke="#111" stroke-width="0.2">&#8722;Z''(ohm)</text>
<text x="255.00" y="394.00" font-size="16.00" text-anchor="start" fill="#111" stroke="#111" stroke-width="0.00" >(f)</text>
</svg></body></html>
